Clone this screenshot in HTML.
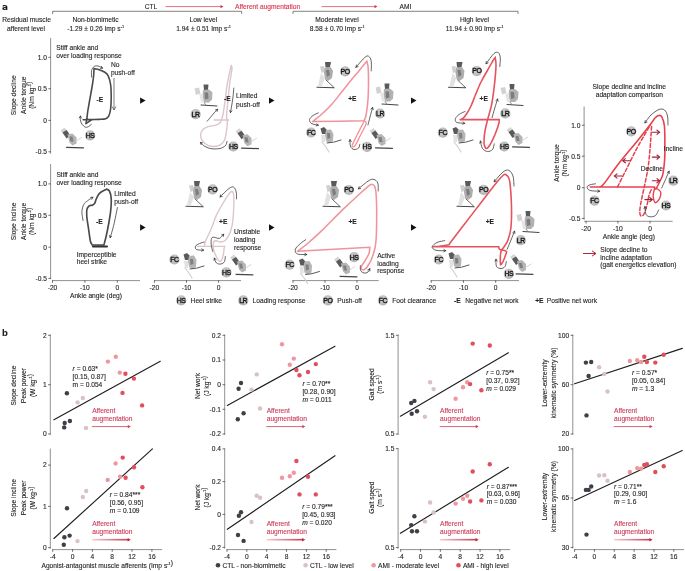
<!DOCTYPE html>
<html><head><meta charset="utf-8"><style>
html,body{margin:0;padding:0;background:#fff;width:685px;height:571px;overflow:hidden}
svg{display:block}
</style></head><body>
<svg width="685" height="571" viewBox="0 0 685 571" font-family="'Liberation Sans', Arial, Helvetica, sans-serif" font-size="6.65" fill="#231f20" stroke-linecap="round">
<style>text{stroke-width:0.12px}</style>
<defs>
<radialGradient id="bg" cx="0.45" cy="0.42" r="0.6"><stop offset="0" stop-color="#cdcdcd"/><stop offset="0.75" stop-color="#bdbdbd"/><stop offset="1" stop-color="#a8a8a8"/></radialGradient>
<filter id="soft" x="-10%" y="-10%" width="120%" height="120%"><feGaussianBlur stdDeviation="0.3"/></filter>
<linearGradient id="pg" gradientUnits="objectBoundingBox" x1="0" y1="0" x2="1" y2="0"><stop offset="0" stop-color="#f3cdd1"/><stop offset="1" stop-color="#c83850"/></linearGradient>
</defs>
<rect width="685" height="571" fill="#fff"/>
<text x="1.90" y="9.90" font-weight="bold" font-size="8.9" stroke="#231f20" font-family="DejaVu Sans, sans-serif">a</text>
<path d="M52.6,13.6 L52.6,11.3 L241.7,11.3 L241.7,13.6" stroke="#4d4d4d" stroke-width="0.7" fill="none"/>
<path d="M293,13.6 L293,11.3 L518,11.3 L518,13.6" stroke="#4d4d4d" stroke-width="0.7" fill="none"/>
<text x="151.00" y="9.00" text-anchor="middle" stroke="#231f20">CTL</text>
<text x="405.50" y="9.00" text-anchor="middle" stroke="#231f20">AMI</text>
<line x1="166.00" y1="6.60" x2="221.00" y2="6.60" stroke="#d9344e" stroke-width="0.7"/>
<path d="M223.50,6.60 L220.50,8.17 L220.50,5.02Z" fill="#d9344e"/>
<line x1="322.00" y1="6.60" x2="375.00" y2="6.60" stroke="#d9344e" stroke-width="0.7"/>
<path d="M377.50,6.60 L374.50,8.17 L374.50,5.02Z" fill="#d9344e"/>
<text x="235.00" y="9.40" fill="#d9344e" stroke="#d9344e">Afferent augmentation</text>
<text x="26.50" y="22.40" text-anchor="middle" stroke="#231f20">Residual muscle</text>
<text x="26.00" y="30.50" text-anchor="middle" stroke="#231f20">afferent level</text>
<text x="95.50" y="22.40" text-anchor="middle" stroke="#231f20">Non-biomimetic</text>
<text x="95.70" y="30.50" text-anchor="middle" stroke="#231f20">-1.29 ± 0.26 Imp s<tspan font-size="3.9" dy="-2.5">-1</tspan><tspan dy="2.5"></tspan></text>
<text x="203.30" y="22.40" text-anchor="middle" stroke="#231f20">Low level</text>
<text x="203.50" y="30.50" text-anchor="middle" stroke="#231f20">1.94 ± 0.51 Imp s<tspan font-size="3.9" dy="-2.5">-1</tspan><tspan dy="2.5"></tspan></text>
<text x="337.00" y="22.40" text-anchor="middle" stroke="#231f20">Moderate level</text>
<text x="337.20" y="30.50" text-anchor="middle" stroke="#231f20">8.58 ± 0.70 Imp s<tspan font-size="3.9" dy="-2.5">-1</tspan><tspan dy="2.5"></tspan></text>
<text x="474.50" y="22.40" text-anchor="middle" stroke="#231f20">High level</text>
<text x="474.70" y="30.50" text-anchor="middle" stroke="#231f20">11.94 ± 0.90 Imp s<tspan font-size="3.9" dy="-2.5">-1</tspan><tspan dy="2.5"></tspan></text>
<line x1="50.60" y1="38.40" x2="50.60" y2="153.40" stroke="#7c7c7c" stroke-width="0.85"/>
<line x1="48.80" y1="57.30" x2="50.60" y2="57.30" stroke="#555" stroke-width="0.85"/>
<text x="46.90" y="59.60" text-anchor="end" stroke="#231f20">1.0</text>
<line x1="48.80" y1="88.70" x2="50.60" y2="88.70" stroke="#555" stroke-width="0.85"/>
<text x="46.90" y="91.00" text-anchor="end" stroke="#231f20">0.5</text>
<line x1="48.80" y1="120.40" x2="50.60" y2="120.40" stroke="#555" stroke-width="0.85"/>
<text x="46.90" y="122.70" text-anchor="end" stroke="#231f20">0</text>
<line x1="48.80" y1="151.80" x2="50.60" y2="151.80" stroke="#555" stroke-width="0.85"/>
<text x="46.90" y="154.10" text-anchor="end" stroke="#231f20">-0.5</text>
<text x="16.00" y="95.30" text-anchor="middle" transform="rotate(-90 16.0 95.3)" stroke="#231f20">Slope decline</text>
<text x="25.70" y="95.30" text-anchor="middle" transform="rotate(-90 25.7 95.3)" stroke="#231f20">Ankle torque</text>
<text x="33.70" y="95.30" text-anchor="middle" transform="rotate(-90 33.699999999999996 95.3)" stroke="#231f20">(Nm kg<tspan font-size="3.9" dy="-2.5">-1</tspan><tspan dy="2.5"></tspan>)</text>
<line x1="50.60" y1="164.50" x2="50.60" y2="278.80" stroke="#7c7c7c" stroke-width="0.85"/>
<line x1="48.80" y1="183.90" x2="50.60" y2="183.90" stroke="#555" stroke-width="0.85"/>
<text x="46.90" y="186.20" text-anchor="end" stroke="#231f20">1.0</text>
<line x1="48.80" y1="215.30" x2="50.60" y2="215.30" stroke="#555" stroke-width="0.85"/>
<text x="46.90" y="217.60" text-anchor="end" stroke="#231f20">0.5</text>
<line x1="48.80" y1="247.20" x2="50.60" y2="247.20" stroke="#555" stroke-width="0.85"/>
<text x="46.90" y="249.50" text-anchor="end" stroke="#231f20">0</text>
<line x1="48.80" y1="278.40" x2="50.60" y2="278.40" stroke="#555" stroke-width="0.85"/>
<text x="46.90" y="280.70" text-anchor="end" stroke="#231f20">-0.5</text>
<text x="16.00" y="221.40" text-anchor="middle" transform="rotate(-90 16.0 221.4)" stroke="#231f20">Slope incline</text>
<text x="25.70" y="221.40" text-anchor="middle" transform="rotate(-90 25.7 221.4)" stroke="#231f20">Ankle torque</text>
<text x="33.70" y="221.40" text-anchor="middle" transform="rotate(-90 33.699999999999996 221.4)" stroke="#231f20">(Nm kg<tspan font-size="3.9" dy="-2.5">-1</tspan><tspan dy="2.5"></tspan>)</text>
<line x1="52.50" y1="280.60" x2="139.60" y2="280.60" stroke="#7c7c7c" stroke-width="0.85"/>
<line x1="52.50" y1="280.60" x2="52.50" y2="282.40" stroke="#555" stroke-width="0.85"/>
<text x="52.50" y="289.90" text-anchor="middle" stroke="#231f20">-20</text>
<line x1="84.90" y1="280.60" x2="84.90" y2="282.40" stroke="#555" stroke-width="0.85"/>
<text x="84.90" y="289.90" text-anchor="middle" stroke="#231f20">-10</text>
<line x1="117.30" y1="280.60" x2="117.30" y2="282.40" stroke="#555" stroke-width="0.85"/>
<text x="117.30" y="289.90" text-anchor="middle" stroke="#231f20">0</text>
<line x1="154.40" y1="280.60" x2="240.60" y2="280.60" stroke="#7c7c7c" stroke-width="0.85"/>
<line x1="154.40" y1="280.60" x2="154.40" y2="282.40" stroke="#555" stroke-width="0.85"/>
<text x="154.40" y="289.90" text-anchor="middle" stroke="#231f20">-20</text>
<line x1="186.50" y1="280.60" x2="186.50" y2="282.40" stroke="#555" stroke-width="0.85"/>
<text x="186.50" y="289.90" text-anchor="middle" stroke="#231f20">-10</text>
<line x1="218.60" y1="280.60" x2="218.60" y2="282.40" stroke="#555" stroke-width="0.85"/>
<text x="218.60" y="289.90" text-anchor="middle" stroke="#231f20">0</text>
<line x1="293.00" y1="280.60" x2="378.30" y2="280.60" stroke="#7c7c7c" stroke-width="0.85"/>
<line x1="293.00" y1="280.60" x2="293.00" y2="282.40" stroke="#555" stroke-width="0.85"/>
<text x="293.00" y="289.90" text-anchor="middle" stroke="#231f20">-20</text>
<line x1="325.00" y1="280.60" x2="325.00" y2="282.40" stroke="#555" stroke-width="0.85"/>
<text x="325.00" y="289.90" text-anchor="middle" stroke="#231f20">-10</text>
<line x1="357.00" y1="280.60" x2="357.00" y2="282.40" stroke="#555" stroke-width="0.85"/>
<text x="357.00" y="289.90" text-anchor="middle" stroke="#231f20">0</text>
<line x1="431.20" y1="280.60" x2="518.60" y2="280.60" stroke="#7c7c7c" stroke-width="0.85"/>
<line x1="431.20" y1="280.60" x2="431.20" y2="282.40" stroke="#555" stroke-width="0.85"/>
<text x="431.20" y="289.90" text-anchor="middle" stroke="#231f20">-20</text>
<line x1="463.45" y1="280.60" x2="463.45" y2="282.40" stroke="#555" stroke-width="0.85"/>
<text x="463.45" y="289.90" text-anchor="middle" stroke="#231f20">-10</text>
<line x1="495.70" y1="280.60" x2="495.70" y2="282.40" stroke="#555" stroke-width="0.85"/>
<text x="495.70" y="289.90" text-anchor="middle" stroke="#231f20">0</text>
<text x="96.00" y="298.40" text-anchor="middle" stroke="#231f20">Ankle angle (deg)</text>
<path d="M140.1,97.4 L145.6,100.6 L140.1,103.8Z" fill="#111"/>
<path d="M269.0,97.4 L274.5,100.6 L269.0,103.8Z" fill="#111"/>
<path d="M411.0,97.4 L416.5,100.6 L411.0,103.8Z" fill="#111"/>
<path d="M140.1,224.3 L145.6,227.5 L140.1,230.7Z" fill="#111"/>
<path d="M269.0,224.3 L274.5,227.5 L269.0,230.7Z" fill="#111"/>
<path d="M411.0,224.3 L416.5,227.5 L411.0,230.7Z" fill="#111"/>
<circle cx="181.20" cy="300.30" r="5.1" fill="url(#bg)"/>
<text x="181.20" y="302.65" text-anchor="middle" fill="#111" font-size="6.9" stroke="#111" letter-spacing="-0.4" style="stroke-width:0.3px">HS</text>
<text x="190.60" y="302.60" stroke="#231f20">Heel strike</text>
<circle cx="243.20" cy="300.30" r="5.1" fill="url(#bg)"/>
<text x="243.20" y="302.65" text-anchor="middle" fill="#111" font-size="6.9" stroke="#111" letter-spacing="-0.4" style="stroke-width:0.3px">LR</text>
<text x="252.60" y="302.60" stroke="#231f20">Loading response</text>
<circle cx="327.90" cy="300.30" r="5.1" fill="url(#bg)"/>
<text x="327.90" y="302.65" text-anchor="middle" fill="#111" font-size="6.9" stroke="#111" letter-spacing="-0.4" style="stroke-width:0.3px">PO</text>
<text x="337.30" y="302.60" stroke="#231f20">Push-off</text>
<circle cx="382.90" cy="300.30" r="5.1" fill="url(#bg)"/>
<text x="382.90" y="302.65" text-anchor="middle" fill="#111" font-size="6.9" stroke="#111" letter-spacing="-0.4" style="stroke-width:0.3px">FC</text>
<text x="392.30" y="302.60" stroke="#231f20">Foot clearance</text>
<text x="454.00" y="302.60" font-weight="bold" stroke="#231f20">-E</text>
<text x="465.30" y="302.60" stroke="#231f20">Negative net work</text>
<text x="535.20" y="302.60" font-weight="bold" stroke="#231f20">+E</text>
<text x="546.80" y="302.60" stroke="#231f20">Positive net work</text>
<text x="629.30" y="89.30" text-anchor="middle" stroke="#231f20">Slope decline and incline</text>
<text x="629.30" y="97.40" text-anchor="middle" stroke="#231f20">adaptation comparison</text>
<line x1="584.10" y1="106.80" x2="584.10" y2="219.50" stroke="#7c7c7c" stroke-width="0.85"/>
<line x1="582.30" y1="125.20" x2="584.10" y2="125.20" stroke="#555" stroke-width="0.85"/>
<text x="580.40" y="127.50" text-anchor="end" stroke="#231f20">1.0</text>
<line x1="582.30" y1="156.20" x2="584.10" y2="156.20" stroke="#555" stroke-width="0.85"/>
<text x="580.40" y="158.50" text-anchor="end" stroke="#231f20">0.5</text>
<line x1="582.30" y1="187.70" x2="584.10" y2="187.70" stroke="#555" stroke-width="0.85"/>
<text x="580.40" y="190.00" text-anchor="end" stroke="#231f20">0</text>
<line x1="582.30" y1="218.40" x2="584.10" y2="218.40" stroke="#555" stroke-width="0.85"/>
<text x="580.40" y="220.70" text-anchor="end" stroke="#231f20">-0.5</text>
<text x="558.60" y="163.00" text-anchor="middle" transform="rotate(-90 558.5999999999999 163)" stroke="#231f20">Ankle torque</text>
<text x="567.30" y="163.00" text-anchor="middle" transform="rotate(-90 567.3 163)" stroke="#231f20">(Nm kg<tspan font-size="3.9" dy="-2.5">-1</tspan><tspan dy="2.5"></tspan>)</text>
<line x1="584.50" y1="221.30" x2="672.30" y2="221.30" stroke="#7c7c7c" stroke-width="0.85"/>
<line x1="586.10" y1="221.30" x2="586.10" y2="223.10" stroke="#555" stroke-width="0.85"/>
<text x="586.10" y="230.60" text-anchor="middle" stroke="#231f20">-20</text>
<line x1="617.90" y1="221.30" x2="617.90" y2="223.10" stroke="#555" stroke-width="0.85"/>
<text x="617.90" y="230.60" text-anchor="middle" stroke="#231f20">-10</text>
<line x1="650.00" y1="221.30" x2="650.00" y2="223.10" stroke="#555" stroke-width="0.85"/>
<text x="650.00" y="230.60" text-anchor="middle" stroke="#231f20">0</text>
<text x="628.90" y="239.00" text-anchor="middle" stroke="#231f20">Ankle angle (deg)</text>
<line x1="583.40" y1="253.50" x2="595.20" y2="253.50" stroke="#b5263c" stroke-width="1.0"/>
<path d="M592.3,251.1 L596,253.5 L592.3,255.9" stroke="#b5263c" stroke-width="1.0" fill="none"/>
<text x="600.30" y="251.60" stroke="#231f20">Slope decline to</text>
<text x="600.30" y="259.60" stroke="#231f20">incline adaptation</text>
<text x="600.30" y="267.40" stroke="#231f20">(gait energetics elevation)</text>
<text x="2.00" y="336.20" font-weight="bold" font-size="9.5" stroke="#231f20">b</text>
<path d="M83.10,119.70 C84.62,119.68 89.47,119.65 92.20,119.60 C94.93,119.55 97.25,119.55 99.50,119.40 C101.75,119.25 104.17,119.23 105.70,118.70 C107.23,118.17 107.88,117.82 108.70,116.20 C109.52,114.58 110.18,112.23 110.60,109.00 C111.02,105.77 111.20,100.88 111.20,96.80 C111.20,92.72 111.12,88.03 110.60,84.50 C110.08,80.97 109.13,77.68 108.10,75.60 C107.07,73.52 106.03,73.03 104.40,72.00 C102.77,70.97 100.03,69.97 98.30,69.40 C96.57,68.83 94.72,68.73 94.00,68.60 C93.93,69.83 93.90,73.10 93.60,76.00 C93.30,78.90 92.85,82.00 92.20,86.00 C91.55,90.00 90.43,95.83 89.70,100.00 C88.97,104.17 88.28,107.83 87.80,111.00 C87.32,114.17 87.12,116.88 86.80,119.00 C86.48,121.12 86.05,122.92 85.90,123.70 L91.2,120.1" stroke="#4a4a4a" stroke-width="1.6" fill="none" stroke-linejoin="round"/>
<path d="M91.60,77.20 C91.60,76.08 91.20,72.27 91.60,70.50 C92.00,68.73 92.93,67.35 94.00,66.60 C95.07,65.85 96.57,65.73 98.00,66.00 C99.43,66.27 101.83,67.83 102.60,68.20" stroke="#222222" stroke-width="0.7" fill="none"/>
<path d="M100.31,68.38 L102.60,68.20 L101.30,66.30" stroke="#222222" stroke-width="0.7" fill="none"/>
<path d="M91.40,124.30 C90.92,124.68 89.52,126.13 88.50,126.60 C87.48,127.07 86.42,127.53 85.30,127.10 C84.18,126.67 82.63,125.27 81.80,124.00 C80.97,122.73 80.52,120.83 80.30,119.50 C80.08,118.17 80.47,116.58 80.50,116.00" stroke="#222222" stroke-width="0.7" fill="none"/>
<path d="M81.53,118.05 L80.50,116.00 L79.24,117.92" stroke="#222222" stroke-width="0.7" fill="none"/>
<line x1="114.00" y1="78.40" x2="114.00" y2="109.50" stroke="#444" stroke-width="0.7"/>
<path d="M112.3,106.8 L114,110 L115.7,106.8" stroke="#444" stroke-width="0.7" fill="none"/>
<text x="56.30" y="50.30" stroke="#231f20">Stiff ankle and</text>
<text x="56.30" y="57.80" stroke="#231f20">over loading response</text>
<text x="110.90" y="66.60" stroke="#231f20">No</text>
<text x="110.90" y="74.80" stroke="#231f20">push-off</text>
<text x="96.50" y="101.50" font-weight="bold" stroke="#231f20">-E</text>
<g transform="translate(59.50,127.50) scale(1.0)" filter="url(#soft)"><path d="M1,3 L5,0 L9,5 L5,8Z" fill="#d5d5d5"/><path d="M3,5 L7,2.5 L11,8 L7,11Z" fill="#5a5a5a"/><path d="M8,7 L13,6 L17,10 L17,16 L13,18 L10,15Z" fill="#b5b5b5"/><path d="M10,9 L13,9 L14,14 L11,14Z" fill="#808080"/><path d="M16,14 L22,10" stroke="#c8c8c8" stroke-width="0.8"/><path d="M7,19.8 L24,20.3" stroke="#454545" stroke-width="1.2"/></g>
<circle cx="90.10" cy="135.30" r="5.1" fill="url(#bg)"/>
<text x="90.10" y="137.65" text-anchor="middle" fill="#111" font-size="6.9" stroke="#111" letter-spacing="-0.4" style="stroke-width:0.3px">HS</text>
<path d="M231.50,66.30 C231.58,66.75 232.28,66.27 232.00,69.00 C231.72,71.73 230.45,77.57 229.80,82.70 C229.15,87.83 228.60,94.92 228.10,99.80 C227.60,104.68 227.05,109.13 226.80,112.00 C226.55,114.87 226.52,115.50 226.60,117.00 C226.68,118.50 227.23,119.33 227.30,121.00 C227.37,122.67 227.22,124.83 227.00,127.00 C226.78,129.17 226.45,131.72 226.00,134.00 C225.55,136.28 225.42,138.82 224.30,140.70 C223.18,142.58 221.47,144.37 219.30,145.30 C217.13,146.23 213.73,146.63 211.30,146.30 C208.87,145.97 206.42,144.68 204.70,143.30 C202.98,141.92 201.57,139.88 201.00,138.00 C200.43,136.12 200.47,133.78 201.30,132.00 C202.13,130.22 203.77,128.42 206.00,127.30 C208.23,126.18 212.45,125.93 214.70,125.30 C216.95,124.67 218.40,124.35 219.50,123.50 C220.60,122.65 220.72,121.70 221.30,120.20 C221.88,118.70 222.35,117.90 223.00,114.50 C223.65,111.10 224.45,105.10 225.20,99.80 C225.95,94.50 226.55,88.20 227.50,82.70 C228.45,77.20 230.23,69.53 230.90,66.80 C231.57,64.07 231.40,66.38 231.50,66.30" stroke="#dcc6c9" stroke-width="1.4" fill="none"/>
<line x1="214.30" y1="120.00" x2="228.70" y2="120.00" stroke="#dcc6c9" stroke-width="1.4"/>
<path d="M233.80,88.10 C233.67,89.58 233.33,94.18 233.00,97.00 C232.67,99.82 232.22,102.40 231.80,105.00 C231.38,107.60 230.72,111.33 230.50,112.60" stroke="#222222" stroke-width="0.7" fill="none"/>
<path d="M229.70,110.44 L230.50,112.60 L231.97,110.83" stroke="#222222" stroke-width="0.7" fill="none"/>
<path d="M207.20,121.20 C207.75,120.53 209.37,118.57 210.50,117.20 C211.63,115.83 212.80,114.33 214.00,113.00 C215.20,111.67 217.08,109.83 217.70,109.20" stroke="#222222" stroke-width="0.7" fill="none"/>
<path d="M217.13,111.43 L217.70,109.20 L215.49,109.82" stroke="#222222" stroke-width="0.7" fill="none"/>
<path d="M227.00,141.40 C226.75,142.08 226.67,144.32 225.50,145.50 C224.33,146.68 222.25,147.95 220.00,148.50 C217.75,149.05 214.50,149.13 212.00,148.80 C209.50,148.47 206.95,147.57 205.00,146.50 C203.05,145.43 201.08,143.08 200.30,142.40" stroke="#222222" stroke-width="0.7" fill="none"/>
<path d="M202.56,142.84 L200.30,142.40 L201.05,144.58" stroke="#222222" stroke-width="0.7" fill="none"/>
<text x="224.00" y="101.00" font-weight="bold" stroke="#231f20">-E</text>
<text x="236.00" y="98.20" stroke="#231f20">Limited</text>
<text x="236.00" y="106.60" stroke="#231f20">push-off</text>
<g transform="translate(194.00,84.50) scale(1.0)" filter="url(#soft)"><path d="M9.5,0 L14.5,0 L14,5.5 L10,5.8Z" fill="#5a5a5a"/><path d="M0.5,4 L5,3 L6.5,9 L2,10.5Z" fill="#d2d2d2"/><path d="M9,5.5 L15,5 L18.5,8 L18,15 L15,18 L10,18 L8.5,11Z" fill="#b2b2b2"/><path d="M10.5,8 L14,8 L14.5,14 L11,15Z" fill="#7c7c7c"/><path d="M5,9 L9,10 L9,18 L7,18Z" fill="#e5e5e5"/><path d="M7,20.5 L23,21.5" stroke="#454545" stroke-width="1.1"/><path d="M10,18 L12,20.5" stroke="#777" stroke-width="0.8"/></g>
<g transform="translate(234.50,128.30) scale(1.0)" filter="url(#soft)"><path d="M1,3 L5,0 L9,5 L5,8Z" fill="#d5d5d5"/><path d="M3,5 L7,2.5 L11,8 L7,11Z" fill="#5a5a5a"/><path d="M8,7 L13,6 L17,10 L17,16 L13,18 L10,15Z" fill="#b5b5b5"/><path d="M10,9 L13,9 L14,14 L11,14Z" fill="#808080"/><path d="M16,14 L22,10" stroke="#c8c8c8" stroke-width="0.8"/><path d="M7,19.8 L24,20.3" stroke="#454545" stroke-width="1.2"/></g>
<circle cx="195.60" cy="114.20" r="5.1" fill="url(#bg)"/>
<text x="195.60" y="116.55" text-anchor="middle" fill="#111" font-size="6.9" stroke="#111" letter-spacing="-0.4" style="stroke-width:0.3px">LR</text>
<circle cx="233.30" cy="146.50" r="5.1" fill="url(#bg)"/>
<text x="233.30" y="148.85" text-anchor="middle" fill="#111" font-size="6.9" stroke="#111" letter-spacing="-0.4" style="stroke-width:0.3px">HS</text>
<path d="M312.60,121.60 C321.13,121.45 355.27,120.85 363.80,120.70  C363.93,120.50 364.18,120.65 364.60,119.50 C365.02,118.35 365.72,117.40 366.30,113.80 C366.88,110.20 367.73,103.62 368.10,97.90 C368.47,92.18 368.50,84.60 368.50,79.50 C368.50,74.40 368.37,70.28 368.10,67.30 C367.83,64.32 367.10,62.55 366.90,61.60  C366.80,61.62 367.63,60.15 366.30,61.70 C364.97,63.25 361.35,67.93 358.90,70.90 C356.45,73.87 354.45,76.02 351.60,79.50 C348.75,82.98 345.07,87.72 341.80,91.80 C338.53,95.88 335.27,100.33 332.00,104.00 C328.73,107.67 325.43,110.87 322.20,113.80 C318.97,116.73 314.20,120.30 312.60,121.60" stroke="#f0939b" stroke-width="1.55" fill="none"/>
<path d="M364.40,120.80 C364.70,121.13 366.00,122.07 366.20,122.80 C366.40,123.53 366.60,123.03 365.60,125.20 C364.60,127.37 361.90,132.47 360.20,135.80 C358.50,139.13 356.50,143.35 355.40,145.20 C354.30,147.05 354.13,146.87 353.60,146.90 C353.07,146.93 351.60,147.42 352.20,145.40 C352.80,143.38 355.47,138.33 357.20,134.80 C358.93,131.27 361.40,126.53 362.60,124.20 C363.80,121.87 364.10,121.37 364.40,120.80" stroke="#f0939b" stroke-width="1.3" fill="none"/>
<path d="M371.20,70.90 C371.22,69.42 371.58,64.32 371.30,62.00 C371.02,59.68 370.47,57.87 369.50,57.00 C368.53,56.13 367.77,55.08 365.50,56.80 C363.23,58.52 357.50,65.55 355.90,67.30" stroke="#222222" stroke-width="0.7" fill="none"/>
<path d="M356.40,65.05 L355.90,67.30 L358.09,66.61" stroke="#222222" stroke-width="0.7" fill="none"/>
<path d="M318.40,112.90 C317.50,113.33 314.47,114.40 313.00,115.50 C311.53,116.60 309.85,118.17 309.60,119.50 C309.35,120.83 310.03,122.55 311.50,123.50 C312.97,124.45 317.25,124.92 318.40,125.20" stroke="#222222" stroke-width="0.7" fill="none"/>
<path d="M316.19,125.84 L318.40,125.20 L316.74,123.61" stroke="#222222" stroke-width="0.7" fill="none"/>
<path d="M368.00,124.90 C368.33,123.58 369.23,119.92 370.00,117.00 C370.77,114.08 372.17,109.00 372.60,107.40" stroke="#222222" stroke-width="0.7" fill="none"/>
<path d="M373.19,109.62 L372.60,107.40 L370.97,109.02" stroke="#222222" stroke-width="0.7" fill="none"/>
<path d="M359.80,144.20 C359.58,144.83 359.47,147.12 358.50,148.00 C357.53,148.88 355.33,149.75 354.00,149.50 C352.67,149.25 351.17,148.15 350.50,146.50 C349.83,144.85 350.08,140.75 350.00,139.60" stroke="#222222" stroke-width="0.7" fill="none"/>
<path d="M351.29,141.50 L350.00,139.60 L349.00,141.67" stroke="#222222" stroke-width="0.7" fill="none"/>
<text x="348.20" y="101.20" font-weight="bold" stroke="#231f20">+E</text>
<g transform="translate(317.00,62.00) scale(1.0)" filter="url(#soft)"><path d="M8,0 L14,0 L13,5 L10,6 L8.5,5Z" fill="#5a5a5a"/><path d="M3,4.5 L7,4 L7.5,10 L4.5,11 Z" fill="#cfcfcf"/><path d="M7.5,5.5 L13.5,5 L16,9 L15,16 L11,19 L8,17 L7,11Z" fill="#adadad"/><path d="M9,8 L12,8 L13,13 L10,15Z" fill="#7c7c7c"/><path d="M4,11 L8,16 L5,24 L1,24Z" fill="#e2e2e2"/><path d="M9,18 L17,25.5" stroke="#5a5a5a" stroke-width="0.9"/><path d="M0,25.3 L17,25.7" stroke="#454545" stroke-width="1.1"/></g>
<g transform="translate(375.00,83.50) scale(1.0)" filter="url(#soft)"><path d="M9.5,0 L14.5,0 L14,5.5 L10,5.8Z" fill="#5a5a5a"/><path d="M0.5,4 L5,3 L6.5,9 L2,10.5Z" fill="#d2d2d2"/><path d="M9,5.5 L15,5 L18.5,8 L18,15 L15,18 L10,18 L8.5,11Z" fill="#b2b2b2"/><path d="M10.5,8 L14,8 L14.5,14 L11,15Z" fill="#7c7c7c"/><path d="M5,9 L9,10 L9,18 L7,18Z" fill="#e5e5e5"/><path d="M7,20.5 L23,21.5" stroke="#454545" stroke-width="1.1"/><path d="M10,18 L12,20.5" stroke="#777" stroke-width="0.8"/></g>
<g transform="translate(320.00,127.00) scale(1.0)" filter="url(#soft)"><path d="M0.5,1.5 L4,0 L7,3 L6,7 L2,7Z" fill="#5a5a5a"/><path d="M6,3 L11,2.5 L13.5,7 L13,14 L9,16 L6,14 L5,8Z" fill="#b5b5b5"/><path d="M7,6 L10,6 L10.5,11 L7.5,12Z" fill="#808080"/><path d="M1,8 L5,8 L5,15 L2,15Z" fill="#e2e2e2"/><path d="M2,15 L6,20 L9,25" stroke="#d0d0d0" stroke-width="1.2" fill="none"/><path d="M7,16 Q13,16 21,13" stroke="#454545" stroke-width="0.9" fill="none"/></g>
<g transform="translate(368.50,128.00) scale(1.0)" filter="url(#soft)"><path d="M1,3 L5,0 L9,5 L5,8Z" fill="#d5d5d5"/><path d="M3,5 L7,2.5 L11,8 L7,11Z" fill="#5a5a5a"/><path d="M8,7 L13,6 L17,10 L17,16 L13,18 L10,15Z" fill="#b5b5b5"/><path d="M10,9 L13,9 L14,14 L11,14Z" fill="#808080"/><path d="M16,14 L22,10" stroke="#c8c8c8" stroke-width="0.8"/><path d="M7,19.8 L24,20.3" stroke="#454545" stroke-width="1.2"/></g>
<circle cx="345.20" cy="71.30" r="5.1" fill="url(#bg)"/>
<text x="345.20" y="73.65" text-anchor="middle" fill="#111" font-size="6.9" stroke="#111" letter-spacing="-0.4" style="stroke-width:0.3px">PO</text>
<circle cx="380.00" cy="113.50" r="5.1" fill="url(#bg)"/>
<text x="380.00" y="115.85" text-anchor="middle" fill="#111" font-size="6.9" stroke="#111" letter-spacing="-0.4" style="stroke-width:0.3px">LR</text>
<circle cx="311.10" cy="132.50" r="5.1" fill="url(#bg)"/>
<text x="311.10" y="134.85" text-anchor="middle" fill="#111" font-size="6.9" stroke="#111" letter-spacing="-0.4" style="stroke-width:0.3px">FC</text>
<circle cx="367.00" cy="146.80" r="5.1" fill="url(#bg)"/>
<text x="367.00" y="149.15" text-anchor="middle" fill="#111" font-size="6.9" stroke="#111" letter-spacing="-0.4" style="stroke-width:0.3px">HS</text>
<path d="M460.20,119.60 C466.70,119.60 492.70,119.60 499.20,119.60  C499.17,120.17 499.53,120.93 499.00,123.00 C498.47,125.07 496.95,129.45 496.00,132.00 C495.05,134.55 494.38,136.05 493.30,138.30 C492.22,140.55 490.63,143.80 489.50,145.50 C488.37,147.20 487.37,148.58 486.50,148.50 C485.63,148.42 484.70,146.58 484.30,145.00 C483.90,143.42 483.98,141.33 484.10,139.00 C484.22,136.67 484.43,134.17 485.00,131.00 C485.57,127.83 486.42,124.30 487.50,120.00 C488.58,115.70 490.38,110.73 491.50,105.20 C492.62,99.67 493.45,93.33 494.20,86.80 C494.95,80.27 495.83,70.85 496.00,66.00 C496.17,61.15 495.33,59.08 495.20,57.70  C494.88,58.10 494.55,58.05 493.30,60.10 C492.05,62.15 489.75,66.35 487.70,70.00 C485.65,73.65 483.05,77.83 481.00,82.00 C478.95,86.17 477.07,91.00 475.40,95.00 C473.73,99.00 472.40,102.97 471.00,106.00 C469.60,109.03 468.33,111.13 467.00,113.20 C465.67,115.27 464.13,117.33 463.00,118.40 C461.87,119.47 460.67,119.40 460.20,119.60" stroke="#e6535f" stroke-width="1.6" fill="none"/>
<path d="M499.80,66.50 C499.88,65.08 500.52,60.28 500.30,58.00 C500.08,55.72 499.55,53.55 498.50,52.80 C497.45,52.05 496.08,51.67 494.00,53.50 C491.92,55.33 487.33,62.08 486.00,63.80" stroke="#222222" stroke-width="0.7" fill="none"/>
<path d="M486.31,61.52 L486.00,63.80 L488.13,62.93" stroke="#222222" stroke-width="0.7" fill="none"/>
<path d="M465.10,111.40 C464.08,111.92 460.60,113.32 459.00,114.50 C457.40,115.68 455.92,117.20 455.50,118.50 C455.08,119.80 454.95,121.50 456.50,122.30 C458.05,123.10 463.42,123.13 464.80,123.30" stroke="#222222" stroke-width="0.7" fill="none"/>
<path d="M462.68,124.20 L464.80,123.30 L462.96,121.92" stroke="#222222" stroke-width="0.7" fill="none"/>
<path d="M492.10,117.60 C492.55,116.00 493.88,111.10 494.80,108.00 C495.72,104.90 497.13,100.50 497.60,99.00" stroke="#222222" stroke-width="0.7" fill="none"/>
<path d="M498.11,101.24 L497.60,99.00 L495.91,100.56" stroke="#222222" stroke-width="0.7" fill="none"/>
<path d="M494.20,143.80 C493.92,144.75 493.62,148.22 492.50,149.50 C491.38,150.78 489.17,151.67 487.50,151.50 C485.83,151.33 483.68,150.25 482.50,148.50 C481.32,146.75 480.75,142.25 480.40,141.00" stroke="#222222" stroke-width="0.7" fill="none"/>
<path d="M482.04,142.61 L480.40,141.00 L479.83,143.23" stroke="#222222" stroke-width="0.7" fill="none"/>
<text x="479.50" y="101.10" font-weight="bold" stroke="#231f20">+E</text>
<g transform="translate(448.50,62.00) scale(1.0)" filter="url(#soft)"><path d="M8,0 L14,0 L13,5 L10,6 L8.5,5Z" fill="#5a5a5a"/><path d="M3,4.5 L7,4 L7.5,10 L4.5,11 Z" fill="#cfcfcf"/><path d="M7.5,5.5 L13.5,5 L16,9 L15,16 L11,19 L8,17 L7,11Z" fill="#adadad"/><path d="M9,8 L12,8 L13,13 L10,15Z" fill="#7c7c7c"/><path d="M4,11 L8,16 L5,24 L1,24Z" fill="#e2e2e2"/><path d="M9,18 L17,25.5" stroke="#5a5a5a" stroke-width="0.9"/><path d="M0,25.3 L17,25.7" stroke="#454545" stroke-width="1.1"/></g>
<g transform="translate(500.00,84.00) scale(1.0)" filter="url(#soft)"><path d="M9.5,0 L14.5,0 L14,5.5 L10,5.8Z" fill="#5a5a5a"/><path d="M0.5,4 L5,3 L6.5,9 L2,10.5Z" fill="#d2d2d2"/><path d="M9,5.5 L15,5 L18.5,8 L18,15 L15,18 L10,18 L8.5,11Z" fill="#b2b2b2"/><path d="M10.5,8 L14,8 L14.5,14 L11,15Z" fill="#7c7c7c"/><path d="M5,9 L9,10 L9,18 L7,18Z" fill="#e5e5e5"/><path d="M7,20.5 L23,21.5" stroke="#454545" stroke-width="1.1"/><path d="M10,18 L12,20.5" stroke="#777" stroke-width="0.8"/></g>
<g transform="translate(452.00,127.00) scale(1.0)" filter="url(#soft)"><path d="M0.5,1.5 L4,0 L7,3 L6,7 L2,7Z" fill="#5a5a5a"/><path d="M6,3 L11,2.5 L13.5,7 L13,14 L9,16 L6,14 L5,8Z" fill="#b5b5b5"/><path d="M7,6 L10,6 L10.5,11 L7.5,12Z" fill="#808080"/><path d="M1,8 L5,8 L5,15 L2,15Z" fill="#e2e2e2"/><path d="M2,15 L6,20 L9,25" stroke="#d0d0d0" stroke-width="1.2" fill="none"/><path d="M7,16 Q13,16 21,13" stroke="#454545" stroke-width="0.9" fill="none"/></g>
<g transform="translate(505.50,127.00) scale(1.0)" filter="url(#soft)"><path d="M1,3 L5,0 L9,5 L5,8Z" fill="#d5d5d5"/><path d="M3,5 L7,2.5 L11,8 L7,11Z" fill="#5a5a5a"/><path d="M8,7 L13,6 L17,10 L17,16 L13,18 L10,15Z" fill="#b5b5b5"/><path d="M10,9 L13,9 L14,14 L11,14Z" fill="#808080"/><path d="M16,14 L22,10" stroke="#c8c8c8" stroke-width="0.8"/><path d="M7,19.8 L24,20.3" stroke="#454545" stroke-width="1.2"/></g>
<circle cx="476.80" cy="71.10" r="5.1" fill="url(#bg)"/>
<text x="476.80" y="73.45" text-anchor="middle" fill="#111" font-size="6.9" stroke="#111" letter-spacing="-0.4" style="stroke-width:0.3px">PO</text>
<circle cx="505.30" cy="113.40" r="5.1" fill="url(#bg)"/>
<text x="505.30" y="115.75" text-anchor="middle" fill="#111" font-size="6.9" stroke="#111" letter-spacing="-0.4" style="stroke-width:0.3px">LR</text>
<circle cx="442.80" cy="132.70" r="5.1" fill="url(#bg)"/>
<text x="442.80" y="135.05" text-anchor="middle" fill="#111" font-size="6.9" stroke="#111" letter-spacing="-0.4" style="stroke-width:0.3px">FC</text>
<circle cx="504.30" cy="146.50" r="5.1" fill="url(#bg)"/>
<text x="504.30" y="148.85" text-anchor="middle" fill="#111" font-size="6.9" stroke="#111" letter-spacing="-0.4" style="stroke-width:0.3px">HS</text>
<path d="M106.40,189.20 C106.90,189.50 108.60,189.47 109.40,191.00 C110.20,192.53 110.98,195.12 111.20,198.40 C111.42,201.68 111.10,206.60 110.70,210.70 C110.30,214.80 109.52,218.92 108.80,223.00 C108.08,227.08 107.22,231.53 106.40,235.20 C105.58,238.87 104.32,243.37 103.90,245.00 L92.3,245  C91.98,244.38 91.02,243.95 90.40,241.30 C89.78,238.65 89.20,233.18 88.60,229.10 C88.00,225.02 87.08,220.08 86.80,216.80 C86.52,213.52 86.50,211.23 86.90,209.40 C87.30,207.57 88.30,206.50 89.20,205.80 C90.10,205.10 91.38,205.62 92.30,205.20 C93.22,204.78 94.08,204.23 94.70,203.30 C95.32,202.37 95.38,201.03 96.00,199.60 C96.62,198.17 97.48,196.02 98.40,194.70 C99.32,193.38 100.17,192.62 101.50,191.70 C102.83,190.78 105.58,189.62 106.40,189.20" stroke="#4a4a4a" stroke-width="1.65" fill="none" stroke-linejoin="round"/>
<line x1="92.90" y1="246.40" x2="107.00" y2="246.40" stroke="#333" stroke-width="2.0"/>
<path d="M83.10,220.50 C82.90,219.07 81.80,214.57 81.90,211.90 C82.00,209.23 82.78,206.33 83.70,204.50 C84.62,202.67 85.87,202.12 87.40,200.90 C88.93,199.68 91.98,197.82 92.90,197.20" stroke="#222222" stroke-width="0.7" fill="none"/>
<path d="M91.89,199.27 L92.90,197.20 L90.61,197.36" stroke="#222222" stroke-width="0.7" fill="none"/>
<path d="M117.40,207.60 C116.78,210.57 114.92,220.38 113.70,225.40 C112.48,230.42 110.70,235.65 110.10,237.70" stroke="#222222" stroke-width="0.7" fill="none"/>
<path d="M109.56,235.47 L110.10,237.70 L111.76,236.11" stroke="#222222" stroke-width="0.7" fill="none"/>
<text x="56.40" y="176.50" stroke="#231f20">Stiff ankle and</text>
<text x="56.40" y="184.90" stroke="#231f20">over loading response</text>
<text x="114.30" y="195.80" stroke="#231f20">Limited</text>
<text x="114.30" y="204.10" stroke="#231f20">push-off</text>
<text x="96.00" y="224.40" font-weight="bold" stroke="#231f20">-E</text>
<text x="76.70" y="256.80" stroke="#231f20">Imperceptible</text>
<text x="76.70" y="264.20" stroke="#231f20">heel strike</text>
<path d="M197.40,246.40 C201.93,246.40 220.07,246.40 224.60,246.40" stroke="#dcc6c9" stroke-width="1.4" fill="none"/>
<path d="M204.10,246.30 C204.42,245.25 205.18,242.08 206.00,240.00 C206.82,237.92 207.88,236.30 209.00,233.80 C210.12,231.30 211.48,228.07 212.70,225.00 C213.92,221.93 214.75,218.73 216.30,215.40 C217.85,212.07 220.02,208.37 222.00,205.00 C223.98,201.63 226.55,197.45 228.20,195.20 C229.85,192.95 230.98,191.53 231.90,191.50 C232.82,191.47 233.38,192.75 233.70,195.00 C234.02,197.25 233.95,200.67 233.80,205.00 C233.65,209.33 233.23,217.00 232.80,221.00 C232.37,225.00 231.85,226.63 231.20,229.00 C230.55,231.37 229.95,233.23 228.90,235.20 C227.85,237.17 226.35,239.67 224.90,240.80 C223.45,241.93 221.63,242.00 220.20,242.00 C218.77,242.00 217.35,240.88 216.30,240.80 C215.25,240.72 214.43,240.72 213.90,241.50 C213.37,242.28 213.10,243.92 213.10,245.50 C213.10,247.08 213.37,249.17 213.90,251.00 C214.43,252.83 215.38,254.80 216.30,256.50 C217.22,258.20 218.48,260.67 219.40,261.20 C220.32,261.73 221.13,260.87 221.80,259.70 C222.47,258.53 223.00,256.17 223.40,254.20 C223.80,252.23 224.00,249.20 224.20,247.90 C224.40,246.60 224.53,246.65 224.60,246.40" stroke="#dcc6c9" stroke-width="1.4" fill="none"/>
<path d="M236.50,198.90 C236.45,197.75 236.67,193.95 236.20,192.00 C235.73,190.05 234.90,187.78 233.70,187.20 C232.50,186.62 231.28,186.87 229.00,188.50 C226.72,190.13 221.50,195.58 220.00,197.00" stroke="#222222" stroke-width="0.7" fill="none"/>
<path d="M220.66,194.80 L220.00,197.00 L222.24,196.47" stroke="#222222" stroke-width="0.7" fill="none"/>
<path d="M204.10,242.00 C203.37,242.25 201.12,242.83 199.70,243.50 C198.28,244.17 196.13,245.00 195.60,246.00 C195.07,247.00 195.15,248.80 196.50,249.50 C197.85,250.20 202.50,250.08 203.70,250.20" stroke="#222222" stroke-width="0.7" fill="none"/>
<path d="M201.61,251.15 L203.70,250.20 L201.83,248.86" stroke="#222222" stroke-width="0.7" fill="none"/>
<path d="M212.70,251.40 C212.45,250.28 211.40,246.87 211.20,244.70 C211.00,242.53 211.05,239.65 211.50,238.40 C211.95,237.15 213.03,237.27 213.90,237.20 C214.77,237.13 215.78,237.80 216.70,238.00 C217.62,238.20 218.55,238.67 219.40,238.40 C220.25,238.13 221.07,237.10 221.80,236.40 C222.53,235.70 223.47,234.57 223.80,234.20" stroke="#222222" stroke-width="0.7" fill="none"/>
<path d="M223.31,236.45 L223.80,234.20 L221.61,234.90" stroke="#222222" stroke-width="0.7" fill="none"/>
<path d="M225.30,256.50 C225.17,257.33 225.22,260.25 224.50,261.50 C223.78,262.75 222.33,263.75 221.00,264.00 C219.67,264.25 217.62,263.98 216.50,263.00 C215.38,262.02 214.67,258.92 214.30,258.10" stroke="#222222" stroke-width="0.7" fill="none"/>
<path d="M216.16,259.45 L214.30,258.10 L214.07,260.39" stroke="#222222" stroke-width="0.7" fill="none"/>
<text x="219.00" y="224.30" font-weight="bold" stroke="#231f20">+E</text>
<text x="234.00" y="234.30" stroke="#231f20">Unstable</text>
<text x="234.00" y="242.00" stroke="#231f20">loading</text>
<text x="234.00" y="249.90" stroke="#231f20">response</text>
<g transform="translate(186.00,181.00) scale(1.0)" filter="url(#soft)"><path d="M8,0 L14,0 L13,5 L10,6 L8.5,5Z" fill="#5a5a5a"/><path d="M3,4.5 L7,4 L7.5,10 L4.5,11 Z" fill="#cfcfcf"/><path d="M7.5,5.5 L13.5,5 L16,9 L15,16 L11,19 L8,17 L7,11Z" fill="#adadad"/><path d="M9,8 L12,8 L13,13 L10,15Z" fill="#7c7c7c"/><path d="M4,11 L8,16 L5,24 L1,24Z" fill="#e2e2e2"/><path d="M9,18 L17,25.5" stroke="#5a5a5a" stroke-width="0.9"/><path d="M0,25.3 L17,25.7" stroke="#454545" stroke-width="1.1"/></g>
<g transform="translate(183.00,253.00) scale(1.0)" filter="url(#soft)"><path d="M0.5,1.5 L4,0 L7,3 L6,7 L2,7Z" fill="#5a5a5a"/><path d="M6,3 L11,2.5 L13.5,7 L13,14 L9,16 L6,14 L5,8Z" fill="#b5b5b5"/><path d="M7,6 L10,6 L10.5,11 L7.5,12Z" fill="#808080"/><path d="M1,8 L5,8 L5,15 L2,15Z" fill="#e2e2e2"/><path d="M2,15 L6,20 L9,25" stroke="#d0d0d0" stroke-width="1.2" fill="none"/><path d="M7,16 Q13,16 21,13" stroke="#454545" stroke-width="0.9" fill="none"/></g>
<g transform="translate(229.00,254.50) scale(1.0)" filter="url(#soft)"><path d="M1,3 L5,0 L9,5 L5,8Z" fill="#d5d5d5"/><path d="M3,5 L7,2.5 L11,8 L7,11Z" fill="#5a5a5a"/><path d="M8,7 L13,6 L17,10 L17,16 L13,18 L10,15Z" fill="#b5b5b5"/><path d="M10,9 L13,9 L14,14 L11,14Z" fill="#808080"/><path d="M16,14 L22,10" stroke="#c8c8c8" stroke-width="0.8"/><path d="M7,19.8 L24,20.3" stroke="#454545" stroke-width="1.2"/></g>
<circle cx="212.60" cy="189.30" r="5.1" fill="url(#bg)"/>
<text x="212.60" y="191.65" text-anchor="middle" fill="#111" font-size="6.9" stroke="#111" letter-spacing="-0.4" style="stroke-width:0.3px">PO</text>
<circle cx="174.40" cy="259.50" r="5.1" fill="url(#bg)"/>
<text x="174.40" y="261.85" text-anchor="middle" fill="#111" font-size="6.9" stroke="#111" letter-spacing="-0.4" style="stroke-width:0.3px">FC</text>
<circle cx="226.40" cy="272.40" r="5.1" fill="url(#bg)"/>
<text x="226.40" y="274.75" text-anchor="middle" fill="#111" font-size="6.9" stroke="#111" letter-spacing="-0.4" style="stroke-width:0.3px">HS</text>
<path d="M297.40,251.30 C309.47,250.63 357.73,247.97 369.80,247.30  C369.77,247.75 369.77,248.88 369.60,250.00 C369.43,251.12 369.65,252.08 368.80,254.00 C367.95,255.92 365.73,259.40 364.50,261.50 C363.27,263.60 361.73,265.22 361.40,266.60 C361.07,267.98 361.80,269.45 362.50,269.80 C363.20,270.15 364.52,269.67 365.60,268.70 C366.68,267.73 367.95,265.75 369.00,264.00 C370.05,262.25 370.90,260.87 371.90,258.20 C372.90,255.53 374.30,251.15 375.00,248.00 C375.70,244.85 375.83,243.13 376.10,239.30 C376.37,235.47 376.52,230.72 376.60,225.00 C376.68,219.28 376.73,210.67 376.60,205.00 C376.47,199.33 376.15,194.17 375.80,191.00 C375.45,187.83 374.97,187.05 374.50,186.00 C374.03,184.95 373.25,184.92 373.00,184.70  C372.47,184.77 372.08,183.52 369.80,185.10 C367.52,186.68 363.85,190.07 359.30,194.20 C354.75,198.33 348.80,203.78 342.50,209.90 C336.20,216.02 327.42,225.22 321.50,230.90 C315.58,236.58 311.02,240.60 307.00,244.00 C302.98,247.40 299.00,250.08 297.40,251.30" stroke="#f0939b" stroke-width="1.55" fill="none"/>
<path d="M378.20,191.00 C378.13,189.67 378.50,184.92 377.80,183.00 C377.10,181.08 375.47,179.92 374.00,179.50 C372.53,179.08 371.62,178.93 369.00,180.50 C366.38,182.07 360.08,187.50 358.30,188.90" stroke="#222222" stroke-width="0.7" fill="none"/>
<path d="M359.16,186.77 L358.30,188.90 L360.58,188.57" stroke="#222222" stroke-width="0.7" fill="none"/>
<path d="M305.80,239.60 C304.92,240.25 302.13,242.10 300.50,243.50 C298.87,244.90 296.85,246.58 296.00,248.00 C295.15,249.42 294.98,250.95 295.40,252.00 C295.82,253.05 296.60,253.88 298.50,254.30 C300.40,254.72 305.42,254.47 306.80,254.50" stroke="#222222" stroke-width="0.7" fill="none"/>
<path d="M304.78,255.60 L306.80,254.50 L304.84,253.30" stroke="#222222" stroke-width="0.7" fill="none"/>
<path d="M360.40,265.60 C360.43,266.42 360.00,269.27 360.60,270.50 C361.20,271.73 362.77,272.75 364.00,273.00 C365.23,273.25 367.03,272.72 368.00,272.00 C368.97,271.28 369.50,269.25 369.80,268.70" stroke="#222222" stroke-width="0.7" fill="none"/>
<path d="M369.86,271.00 L369.80,268.70 L367.84,269.90" stroke="#222222" stroke-width="0.7" fill="none"/>
<text x="348.40" y="223.90" font-weight="bold" stroke="#231f20">+E</text>
<text x="377.20" y="258.40" stroke="#231f20">Active</text>
<text x="377.20" y="265.80" stroke="#231f20">loading</text>
<text x="377.20" y="273.10" stroke="#231f20">response</text>
<g transform="translate(323.00,181.00) scale(1.0)" filter="url(#soft)"><path d="M8,0 L14,0 L13,5 L10,6 L8.5,5Z" fill="#5a5a5a"/><path d="M3,4.5 L7,4 L7.5,10 L4.5,11 Z" fill="#cfcfcf"/><path d="M7.5,5.5 L13.5,5 L16,9 L15,16 L11,19 L8,17 L7,11Z" fill="#adadad"/><path d="M9,8 L12,8 L13,13 L10,15Z" fill="#7c7c7c"/><path d="M4,11 L8,16 L5,24 L1,24Z" fill="#e2e2e2"/><path d="M9,18 L17,25.5" stroke="#5a5a5a" stroke-width="0.9"/><path d="M0,25.3 L17,25.7" stroke="#454545" stroke-width="1.1"/></g>
<g transform="translate(298.50,258.50) scale(1.0)" filter="url(#soft)"><path d="M0.5,1.5 L4,0 L7,3 L6,7 L2,7Z" fill="#5a5a5a"/><path d="M6,3 L11,2.5 L13.5,7 L13,14 L9,16 L6,14 L5,8Z" fill="#b5b5b5"/><path d="M7,6 L10,6 L10.5,11 L7.5,12Z" fill="#808080"/><path d="M1,8 L5,8 L5,15 L2,15Z" fill="#e2e2e2"/><path d="M2,15 L6,20 L9,25" stroke="#d0d0d0" stroke-width="1.2" fill="none"/><path d="M7,16 Q13,16 21,13" stroke="#454545" stroke-width="0.9" fill="none"/></g>
<g transform="translate(333.00,256.50) scale(1.0)" filter="url(#soft)"><path d="M1,3 L5,0 L9,5 L5,8Z" fill="#d5d5d5"/><path d="M3,5 L7,2.5 L11,8 L7,11Z" fill="#5a5a5a"/><path d="M8,7 L13,6 L17,10 L17,16 L13,18 L10,15Z" fill="#b5b5b5"/><path d="M10,9 L13,9 L14,14 L11,14Z" fill="#808080"/><path d="M16,14 L22,10" stroke="#c8c8c8" stroke-width="0.8"/><path d="M7,19.8 L24,20.3" stroke="#454545" stroke-width="1.2"/></g>
<circle cx="348.80" cy="190.00" r="5.1" fill="url(#bg)"/>
<text x="348.80" y="192.35" text-anchor="middle" fill="#111" font-size="6.9" stroke="#111" letter-spacing="-0.4" style="stroke-width:0.3px">PO</text>
<circle cx="289.60" cy="264.70" r="5.1" fill="url(#bg)"/>
<text x="289.60" y="267.05" text-anchor="middle" fill="#111" font-size="6.9" stroke="#111" letter-spacing="-0.4" style="stroke-width:0.3px">FC</text>
<circle cx="354.10" cy="257.20" r="5.1" fill="url(#bg)"/>
<text x="354.10" y="259.55" text-anchor="middle" fill="#111" font-size="6.9" stroke="#111" letter-spacing="-0.4" style="stroke-width:0.3px">HS</text>
<path d="M433.20,246.70 C444.13,246.70 487.87,246.70 498.80,246.70  C498.93,247.13 498.75,248.70 499.60,249.30 C500.45,249.90 502.78,249.93 503.90,250.30 C505.02,250.67 505.90,251.07 506.30,251.50 C506.70,251.93 506.83,251.23 506.30,252.90 C505.77,254.57 504.02,259.53 503.10,261.50 C502.18,263.47 501.25,264.43 500.80,264.70 C500.35,264.97 500.47,264.68 500.40,263.10 C500.33,261.52 500.22,257.37 500.40,255.20 C500.58,253.03 500.92,251.47 501.50,250.10 C502.08,248.73 502.83,248.65 503.90,247.00 C504.97,245.35 506.73,243.37 507.90,240.20 C509.07,237.03 510.30,233.53 510.90,228.00 C511.50,222.47 511.68,214.70 511.50,207.00 C511.32,199.30 510.47,186.97 509.80,181.80 C509.13,176.63 508.20,177.22 507.50,176.00 C506.80,174.78 505.92,174.75 505.60,174.50  C505.25,174.58 504.90,173.78 503.50,175.00 C502.10,176.22 500.70,177.52 497.20,181.80 C493.70,186.08 488.45,193.00 482.50,200.70 C476.55,208.40 466.92,220.95 461.50,228.00 C456.08,235.05 452.10,240.20 450.00,243.00 C447.90,245.80 450.57,244.27 448.90,244.80 C447.23,245.33 442.62,245.88 440.00,246.20 C437.38,246.52 434.33,246.62 433.20,246.70" stroke="#e6535f" stroke-width="1.6" fill="none"/>
<path d="M514.00,186.00 C513.83,184.33 513.87,178.62 513.00,176.00 C512.13,173.38 510.47,170.97 508.80,170.30 C507.13,169.63 505.45,170.08 503.00,172.00 C500.55,173.92 495.58,180.17 494.10,181.80" stroke="#222222" stroke-width="0.7" fill="none"/>
<path d="M494.59,179.55 L494.10,181.80 L496.29,181.10" stroke="#222222" stroke-width="0.7" fill="none"/>
<path d="M444.70,240.60 C443.42,240.92 439.10,241.45 437.00,242.50 C434.90,243.55 432.27,245.60 432.10,246.90 C431.93,248.20 433.72,249.67 436.00,250.30 C438.28,250.93 444.17,250.63 445.80,250.70" stroke="#222222" stroke-width="0.7" fill="none"/>
<path d="M443.76,251.77 L445.80,250.70 L443.86,249.47" stroke="#222222" stroke-width="0.7" fill="none"/>
<path d="M507.10,249.30 C507.75,247.75 509.75,243.02 511.00,240.00 C512.25,236.98 514.00,232.67 514.60,231.20" stroke="#222222" stroke-width="0.7" fill="none"/>
<path d="M514.91,233.48 L514.60,231.20 L512.78,232.61" stroke="#222222" stroke-width="0.7" fill="none"/>
<path d="M506.30,261.50 C506.08,262.33 505.88,265.33 505.00,266.50 C504.12,267.67 502.42,268.50 501.00,268.50 C499.58,268.50 497.33,268.05 496.50,266.50 C495.67,264.95 496.08,260.42 496.00,259.20" stroke="#222222" stroke-width="0.7" fill="none"/>
<path d="M497.28,261.11 L496.00,259.20 L494.99,261.27" stroke="#222222" stroke-width="0.7" fill="none"/>
<text x="485.70" y="224.10" font-weight="bold" stroke="#231f20">+E</text>
<g transform="translate(457.00,181.00) scale(1.0)" filter="url(#soft)"><path d="M8,0 L14,0 L13,5 L10,6 L8.5,5Z" fill="#5a5a5a"/><path d="M3,4.5 L7,4 L7.5,10 L4.5,11 Z" fill="#cfcfcf"/><path d="M7.5,5.5 L13.5,5 L16,9 L15,16 L11,19 L8,17 L7,11Z" fill="#adadad"/><path d="M9,8 L12,8 L13,13 L10,15Z" fill="#7c7c7c"/><path d="M4,11 L8,16 L5,24 L1,24Z" fill="#e2e2e2"/><path d="M9,18 L17,25.5" stroke="#5a5a5a" stroke-width="0.9"/><path d="M0,25.3 L17,25.7" stroke="#454545" stroke-width="1.1"/></g>
<g transform="translate(516.00,211.00) scale(1.0)" filter="url(#soft)"><path d="M9.5,0 L14.5,0 L14,5.5 L10,5.8Z" fill="#5a5a5a"/><path d="M0.5,4 L5,3 L6.5,9 L2,10.5Z" fill="#d2d2d2"/><path d="M9,5.5 L15,5 L18.5,8 L18,15 L15,18 L10,18 L8.5,11Z" fill="#b2b2b2"/><path d="M10.5,8 L14,8 L14.5,14 L11,15Z" fill="#7c7c7c"/><path d="M5,9 L9,10 L9,18 L7,18Z" fill="#e5e5e5"/><path d="M7,20.5 L23,21.5" stroke="#454545" stroke-width="1.1"/><path d="M10,18 L12,20.5" stroke="#777" stroke-width="0.8"/></g>
<g transform="translate(448.00,252.00) scale(1.0)" filter="url(#soft)"><path d="M0.5,1.5 L4,0 L7,3 L6,7 L2,7Z" fill="#5a5a5a"/><path d="M6,3 L11,2.5 L13.5,7 L13,14 L9,16 L6,14 L5,8Z" fill="#b5b5b5"/><path d="M7,6 L10,6 L10.5,11 L7.5,12Z" fill="#808080"/><path d="M1,8 L5,8 L5,15 L2,15Z" fill="#e2e2e2"/><path d="M2,15 L6,20 L9,25" stroke="#d0d0d0" stroke-width="1.2" fill="none"/><path d="M7,16 Q13,16 21,13" stroke="#454545" stroke-width="0.9" fill="none"/></g>
<g transform="translate(509.00,254.00) scale(1.0)" filter="url(#soft)"><path d="M1,3 L5,0 L9,5 L5,8Z" fill="#d5d5d5"/><path d="M3,5 L7,2.5 L11,8 L7,11Z" fill="#5a5a5a"/><path d="M8,7 L13,6 L17,10 L17,16 L13,18 L10,15Z" fill="#b5b5b5"/><path d="M10,9 L13,9 L14,14 L11,14Z" fill="#808080"/><path d="M16,14 L22,10" stroke="#c8c8c8" stroke-width="0.8"/><path d="M7,19.8 L24,20.3" stroke="#454545" stroke-width="1.2"/></g>
<circle cx="483.60" cy="189.80" r="5.1" fill="url(#bg)"/>
<text x="483.60" y="192.15" text-anchor="middle" fill="#111" font-size="6.9" stroke="#111" letter-spacing="-0.4" style="stroke-width:0.3px">PO</text>
<circle cx="520.80" cy="240.20" r="5.1" fill="url(#bg)"/>
<text x="520.80" y="242.55" text-anchor="middle" fill="#111" font-size="6.9" stroke="#111" letter-spacing="-0.4" style="stroke-width:0.3px">LR</text>
<circle cx="438.80" cy="259.50" r="5.1" fill="url(#bg)"/>
<text x="438.80" y="261.85" text-anchor="middle" fill="#111" font-size="6.9" stroke="#111" letter-spacing="-0.4" style="stroke-width:0.3px">FC</text>
<circle cx="508.80" cy="273.80" r="5.1" fill="url(#bg)"/>
<text x="508.80" y="276.15" text-anchor="middle" fill="#111" font-size="6.9" stroke="#111" letter-spacing="-0.4" style="stroke-width:0.3px">HS</text>
<path d="M590.30,187.00 C600.98,187.00 643.72,187.00 654.40,187.00  C654.43,187.33 654.57,188.67 654.60,189.00  C654.92,188.83 655.60,189.33 656.50,188.00 C657.40,186.67 658.95,183.27 660.00,181.00 C661.05,178.73 662.03,177.90 662.80,174.40 C663.57,170.90 664.25,164.57 664.60,160.00 C664.95,155.43 664.93,152.67 664.90,147.00 C664.87,141.33 664.93,131.07 664.40,126.00 C663.87,120.93 662.67,118.35 661.70,116.60 C660.73,114.85 659.72,115.27 658.60,115.50 C657.48,115.73 656.05,116.95 655.00,118.00 C653.95,119.05 655.22,118.02 652.30,121.80 C649.38,125.58 643.12,133.70 637.50,140.70 C631.88,147.70 624.20,156.62 618.60,163.80 C613.00,170.98 607.05,179.93 603.90,183.80 C600.75,187.67 600.40,186.47 599.70,187.00" stroke="#e8404f" stroke-width="1.6" fill="none"/>
<path d="M654.60,189.00 C654.42,189.67 653.72,191.58 653.50,193.00 C653.28,194.42 652.98,195.88 653.30,197.50 C653.62,199.12 654.35,202.53 655.40,202.70 C656.45,202.87 658.72,200.25 659.60,198.50 C660.48,196.75 661.05,193.78 660.70,192.20 C660.35,190.62 658.45,189.62 657.50,189.00 C656.55,188.38 655.42,188.58 655.00,188.50" stroke="#e8404f" stroke-width="1.4" fill="none"/>
<path d="M617.50,186.90 C618.92,184.08 622.92,176.15 626.00,170.00 C629.08,163.85 632.83,156.00 636.00,150.00 C639.17,144.00 642.62,138.13 645.00,134.00 C647.38,129.87 649.42,126.67 650.30,125.20" stroke="#e8404f" stroke-width="1.5" fill="none" stroke-dasharray="3.6,2.2"/>
<path d="M651.60,126.50 C651.50,127.92 651.23,131.58 651.00,135.00 C650.77,138.42 650.70,141.50 650.20,147.00 C649.70,152.50 649.07,161.00 648.00,168.00 C646.93,175.00 645.02,183.03 643.80,189.00 C642.58,194.97 641.37,199.97 640.70,203.80 C640.03,207.63 639.78,210.00 639.80,212.00 C639.82,214.00 640.13,215.42 640.80,215.80 C641.47,216.18 642.77,216.10 643.80,214.30 C644.83,212.50 646.12,208.22 647.00,205.00 C647.88,201.78 648.27,197.80 649.10,195.00 C649.93,192.20 651.52,189.33 652.00,188.20" stroke="#e8404f" stroke-width="1.5" fill="none" stroke-dasharray="3.6,2.2"/>
<line x1="652.30" y1="132.30" x2="659.00" y2="132.30" stroke="#9c2236" stroke-width="1.1"/>
<path d="M657.00,130.20 L659.60,132.30 L657.00,134.40" stroke="#9c2236" stroke-width="1.1" fill="none"/>
<line x1="652.30" y1="157.10" x2="659.00" y2="157.10" stroke="#9c2236" stroke-width="1.1"/>
<path d="M657.00,155.00 L659.60,157.10 L657.00,159.20" stroke="#9c2236" stroke-width="1.1" fill="none"/>
<line x1="652.30" y1="180.70" x2="659.00" y2="180.70" stroke="#9c2236" stroke-width="1.1"/>
<path d="M657.00,178.60 L659.60,180.70 L657.00,182.80" stroke="#9c2236" stroke-width="1.1" fill="none"/>
<line x1="644.90" y1="199.60" x2="651.70" y2="199.60" stroke="#9c2236" stroke-width="1.1"/>
<path d="M649.70,197.50 L652.30,199.60 L649.70,201.70" stroke="#9c2236" stroke-width="1.1" fill="none"/>
<line x1="630.20" y1="160.70" x2="623.40" y2="160.70" stroke="#9c2236" stroke-width="1.1"/>
<path d="M625.40,158.60 L622.80,160.70 L625.40,162.80" stroke="#9c2236" stroke-width="1.1" fill="none"/>
<line x1="621.80" y1="176.00" x2="615.00" y2="176.00" stroke="#9c2236" stroke-width="1.1"/>
<path d="M617.00,173.90 L614.40,176.00 L617.00,178.10" stroke="#9c2236" stroke-width="1.1" fill="none"/>
<path d="M668.00,125.00 C667.92,123.50 668.08,118.50 667.50,116.00 C666.92,113.50 665.92,111.08 664.50,110.00 C663.08,108.92 661.25,108.67 659.00,109.50 C656.75,110.33 653.35,112.77 651.00,115.00 C648.65,117.23 645.92,121.58 644.90,122.90" stroke="#222222" stroke-width="0.7" fill="none"/>
<path d="M645.21,120.62 L644.90,122.90 L647.03,122.03" stroke="#222222" stroke-width="0.7" fill="none"/>
<path d="M595.50,183.80 C594.58,183.97 591.40,184.27 590.00,184.80 C588.60,185.33 587.10,186.05 587.10,187.00 C587.10,187.95 587.90,189.80 590.00,190.50 C592.10,191.20 598.08,191.08 599.70,191.20" stroke="#222222" stroke-width="0.7" fill="none"/>
<path d="M597.63,192.20 L599.70,191.20 L597.80,189.91" stroke="#222222" stroke-width="0.7" fill="none"/>
<path d="M661.70,188.00 C662.33,186.58 664.27,182.30 665.50,179.50 C666.73,176.70 668.50,172.58 669.10,171.20" stroke="#222222" stroke-width="0.7" fill="none"/>
<path d="M669.36,173.48 L669.10,171.20 L667.25,172.57" stroke="#222222" stroke-width="0.7" fill="none"/>
<path d="M658.60,210.00 C658.08,210.92 656.93,214.37 655.50,215.50 C654.07,216.63 651.58,217.00 650.00,216.80 C648.42,216.60 646.85,216.02 646.00,214.30 C645.15,212.58 645.08,207.80 644.90,206.50" stroke="#222222" stroke-width="0.7" fill="none"/>
<path d="M646.32,208.31 L644.90,206.50 L644.04,208.63" stroke="#222222" stroke-width="0.7" fill="none"/>
<text x="663.80" y="151.40" stroke="#231f20">Incline</text>
<text x="640.70" y="171.40" stroke="#231f20">Decline</text>
<circle cx="631.20" cy="131.30" r="5.1" fill="url(#bg)"/>
<text x="631.20" y="133.65" text-anchor="middle" fill="#111" font-size="6.9" stroke="#111" letter-spacing="-0.4" style="stroke-width:0.3px">PO</text>
<circle cx="594.50" cy="200.60" r="5.1" fill="url(#bg)"/>
<text x="594.50" y="202.95" text-anchor="middle" fill="#111" font-size="6.9" stroke="#111" letter-spacing="-0.4" style="stroke-width:0.3px">FC</text>
<circle cx="673.30" cy="180.70" r="5.1" fill="url(#bg)"/>
<text x="673.30" y="183.05" text-anchor="middle" fill="#111" font-size="6.9" stroke="#111" letter-spacing="-0.4" style="stroke-width:0.3px">LR</text>
<circle cx="665.90" cy="205.50" r="5.1" fill="url(#bg)"/>
<text x="665.90" y="207.85" text-anchor="middle" fill="#111" font-size="6.9" stroke="#111" letter-spacing="-0.4" style="stroke-width:0.3px">HS</text>
<line x1="50.30" y1="335.00" x2="50.30" y2="434.40" stroke="#7c7c7c" stroke-width="0.85"/>
<line x1="48.50" y1="335.30" x2="50.30" y2="335.30" stroke="#555" stroke-width="0.85"/>
<text x="46.60" y="337.60" text-anchor="end" stroke="#231f20">2</text>
<line x1="48.50" y1="384.70" x2="50.30" y2="384.70" stroke="#555" stroke-width="0.85"/>
<text x="46.60" y="387.00" text-anchor="end" stroke="#231f20">1</text>
<line x1="48.50" y1="434.00" x2="50.30" y2="434.00" stroke="#555" stroke-width="0.85"/>
<text x="46.60" y="436.30" text-anchor="end" stroke="#231f20">0</text>
<line x1="224.70" y1="335.00" x2="224.70" y2="434.40" stroke="#7c7c7c" stroke-width="0.85"/>
<line x1="222.90" y1="335.30" x2="224.70" y2="335.30" stroke="#555" stroke-width="0.85"/>
<text x="221.00" y="337.60" text-anchor="end" stroke="#231f20">0.2</text>
<line x1="222.90" y1="360.00" x2="224.70" y2="360.00" stroke="#555" stroke-width="0.85"/>
<text x="221.00" y="362.30" text-anchor="end" stroke="#231f20">0.1</text>
<line x1="222.90" y1="384.70" x2="224.70" y2="384.70" stroke="#555" stroke-width="0.85"/>
<text x="221.00" y="387.00" text-anchor="end" stroke="#231f20">0</text>
<line x1="222.90" y1="409.30" x2="224.70" y2="409.30" stroke="#555" stroke-width="0.85"/>
<text x="221.00" y="411.60" text-anchor="end" stroke="#231f20">-0.1</text>
<line x1="222.90" y1="434.00" x2="224.70" y2="434.00" stroke="#555" stroke-width="0.85"/>
<text x="221.00" y="436.30" text-anchor="end" stroke="#231f20">-0.2</text>
<line x1="398.10" y1="335.00" x2="398.10" y2="434.40" stroke="#7c7c7c" stroke-width="0.85"/>
<line x1="396.30" y1="335.30" x2="398.10" y2="335.30" stroke="#555" stroke-width="0.85"/>
<text x="394.40" y="337.60" text-anchor="end" stroke="#231f20">1.5</text>
<line x1="396.30" y1="434.00" x2="398.10" y2="434.00" stroke="#555" stroke-width="0.85"/>
<text x="394.40" y="436.30" text-anchor="end" stroke="#231f20">0.5</text>
<line x1="572.80" y1="335.00" x2="572.80" y2="434.40" stroke="#7c7c7c" stroke-width="0.85"/>
<line x1="571.00" y1="335.30" x2="572.80" y2="335.30" stroke="#555" stroke-width="0.85"/>
<text x="569.10" y="337.60" text-anchor="end" stroke="#231f20">100</text>
<line x1="571.00" y1="384.70" x2="572.80" y2="384.70" stroke="#555" stroke-width="0.85"/>
<text x="569.10" y="387.00" text-anchor="end" stroke="#231f20">60</text>
<line x1="571.00" y1="434.00" x2="572.80" y2="434.00" stroke="#555" stroke-width="0.85"/>
<text x="569.10" y="436.30" text-anchor="end" stroke="#231f20">20</text>
<line x1="50.30" y1="449.00" x2="50.30" y2="548.20" stroke="#7c7c7c" stroke-width="0.85"/>
<line x1="48.50" y1="465.10" x2="50.30" y2="465.10" stroke="#555" stroke-width="0.85"/>
<text x="46.60" y="467.40" text-anchor="end" stroke="#231f20">2</text>
<line x1="48.50" y1="506.40" x2="50.30" y2="506.40" stroke="#555" stroke-width="0.85"/>
<text x="46.60" y="508.70" text-anchor="end" stroke="#231f20">1</text>
<line x1="48.50" y1="547.70" x2="50.30" y2="547.70" stroke="#555" stroke-width="0.85"/>
<text x="46.60" y="550.00" text-anchor="end" stroke="#231f20">0</text>
<line x1="224.70" y1="449.00" x2="224.70" y2="548.20" stroke="#7c7c7c" stroke-width="0.85"/>
<line x1="222.90" y1="448.90" x2="224.70" y2="448.90" stroke="#555" stroke-width="0.85"/>
<text x="221.00" y="451.20" text-anchor="end" stroke="#231f20">0.4</text>
<line x1="222.90" y1="481.60" x2="224.70" y2="481.60" stroke="#555" stroke-width="0.85"/>
<text x="221.00" y="483.90" text-anchor="end" stroke="#231f20">0.2</text>
<line x1="222.90" y1="514.40" x2="224.70" y2="514.40" stroke="#555" stroke-width="0.85"/>
<text x="221.00" y="516.70" text-anchor="end" stroke="#231f20">0</text>
<line x1="222.90" y1="547.40" x2="224.70" y2="547.40" stroke="#555" stroke-width="0.85"/>
<text x="221.00" y="549.70" text-anchor="end" stroke="#231f20">-0.2</text>
<line x1="398.10" y1="449.00" x2="398.10" y2="548.20" stroke="#7c7c7c" stroke-width="0.85"/>
<line x1="396.30" y1="448.60" x2="398.10" y2="448.60" stroke="#555" stroke-width="0.85"/>
<text x="394.40" y="450.90" text-anchor="end" stroke="#231f20">1.5</text>
<line x1="396.30" y1="547.60" x2="398.10" y2="547.60" stroke="#555" stroke-width="0.85"/>
<text x="394.40" y="549.90" text-anchor="end" stroke="#231f20">0.5</text>
<line x1="572.80" y1="449.00" x2="572.80" y2="548.20" stroke="#7c7c7c" stroke-width="0.85"/>
<line x1="571.00" y1="448.90" x2="572.80" y2="448.90" stroke="#555" stroke-width="0.85"/>
<text x="569.10" y="451.20" text-anchor="end" stroke="#231f20">100</text>
<line x1="571.00" y1="498.00" x2="572.80" y2="498.00" stroke="#555" stroke-width="0.85"/>
<text x="569.10" y="500.30" text-anchor="end" stroke="#231f20">65</text>
<line x1="571.00" y1="547.40" x2="572.80" y2="547.40" stroke="#555" stroke-width="0.85"/>
<text x="569.10" y="549.70" text-anchor="end" stroke="#231f20">30</text>
<line x1="52.70" y1="549.60" x2="161.70" y2="549.60" stroke="#7c7c7c" stroke-width="0.85"/>
<line x1="52.70" y1="549.60" x2="52.70" y2="551.40" stroke="#555" stroke-width="0.85"/>
<text x="52.70" y="558.90" text-anchor="middle" stroke="#231f20">-4</text>
<line x1="72.54" y1="549.60" x2="72.54" y2="551.40" stroke="#555" stroke-width="0.85"/>
<text x="72.54" y="558.90" text-anchor="middle" stroke="#231f20">0</text>
<line x1="92.38" y1="549.60" x2="92.38" y2="551.40" stroke="#555" stroke-width="0.85"/>
<text x="92.38" y="558.90" text-anchor="middle" stroke="#231f20">4</text>
<line x1="112.22" y1="549.60" x2="112.22" y2="551.40" stroke="#555" stroke-width="0.85"/>
<text x="112.22" y="558.90" text-anchor="middle" stroke="#231f20">8</text>
<line x1="132.06" y1="549.60" x2="132.06" y2="551.40" stroke="#555" stroke-width="0.85"/>
<text x="132.06" y="558.90" text-anchor="middle" stroke="#231f20">12</text>
<line x1="151.90" y1="549.60" x2="151.90" y2="551.40" stroke="#555" stroke-width="0.85"/>
<text x="151.90" y="558.90" text-anchor="middle" stroke="#231f20">16</text>
<line x1="227.00" y1="549.60" x2="336.00" y2="549.60" stroke="#7c7c7c" stroke-width="0.85"/>
<line x1="227.00" y1="549.60" x2="227.00" y2="551.40" stroke="#555" stroke-width="0.85"/>
<text x="227.00" y="558.90" text-anchor="middle" stroke="#231f20">-4</text>
<line x1="246.84" y1="549.60" x2="246.84" y2="551.40" stroke="#555" stroke-width="0.85"/>
<text x="246.84" y="558.90" text-anchor="middle" stroke="#231f20">0</text>
<line x1="266.68" y1="549.60" x2="266.68" y2="551.40" stroke="#555" stroke-width="0.85"/>
<text x="266.68" y="558.90" text-anchor="middle" stroke="#231f20">4</text>
<line x1="286.52" y1="549.60" x2="286.52" y2="551.40" stroke="#555" stroke-width="0.85"/>
<text x="286.52" y="558.90" text-anchor="middle" stroke="#231f20">8</text>
<line x1="306.36" y1="549.60" x2="306.36" y2="551.40" stroke="#555" stroke-width="0.85"/>
<text x="306.36" y="558.90" text-anchor="middle" stroke="#231f20">12</text>
<line x1="326.20" y1="549.60" x2="326.20" y2="551.40" stroke="#555" stroke-width="0.85"/>
<text x="326.20" y="558.90" text-anchor="middle" stroke="#231f20">16</text>
<line x1="400.70" y1="549.60" x2="509.70" y2="549.60" stroke="#7c7c7c" stroke-width="0.85"/>
<line x1="400.70" y1="549.60" x2="400.70" y2="551.40" stroke="#555" stroke-width="0.85"/>
<text x="400.70" y="558.90" text-anchor="middle" stroke="#231f20">-4</text>
<line x1="420.54" y1="549.60" x2="420.54" y2="551.40" stroke="#555" stroke-width="0.85"/>
<text x="420.54" y="558.90" text-anchor="middle" stroke="#231f20">0</text>
<line x1="440.38" y1="549.60" x2="440.38" y2="551.40" stroke="#555" stroke-width="0.85"/>
<text x="440.38" y="558.90" text-anchor="middle" stroke="#231f20">4</text>
<line x1="460.22" y1="549.60" x2="460.22" y2="551.40" stroke="#555" stroke-width="0.85"/>
<text x="460.22" y="558.90" text-anchor="middle" stroke="#231f20">8</text>
<line x1="480.06" y1="549.60" x2="480.06" y2="551.40" stroke="#555" stroke-width="0.85"/>
<text x="480.06" y="558.90" text-anchor="middle" stroke="#231f20">12</text>
<line x1="499.90" y1="549.60" x2="499.90" y2="551.40" stroke="#555" stroke-width="0.85"/>
<text x="499.90" y="558.90" text-anchor="middle" stroke="#231f20">16</text>
<line x1="574.60" y1="549.60" x2="683.60" y2="549.60" stroke="#7c7c7c" stroke-width="0.85"/>
<line x1="574.60" y1="549.60" x2="574.60" y2="551.40" stroke="#555" stroke-width="0.85"/>
<text x="574.60" y="558.90" text-anchor="middle" stroke="#231f20">-4</text>
<line x1="594.44" y1="549.60" x2="594.44" y2="551.40" stroke="#555" stroke-width="0.85"/>
<text x="594.44" y="558.90" text-anchor="middle" stroke="#231f20">0</text>
<line x1="614.28" y1="549.60" x2="614.28" y2="551.40" stroke="#555" stroke-width="0.85"/>
<text x="614.28" y="558.90" text-anchor="middle" stroke="#231f20">4</text>
<line x1="634.12" y1="549.60" x2="634.12" y2="551.40" stroke="#555" stroke-width="0.85"/>
<text x="634.12" y="558.90" text-anchor="middle" stroke="#231f20">8</text>
<line x1="653.96" y1="549.60" x2="653.96" y2="551.40" stroke="#555" stroke-width="0.85"/>
<text x="653.96" y="558.90" text-anchor="middle" stroke="#231f20">12</text>
<line x1="673.80" y1="549.60" x2="673.80" y2="551.40" stroke="#555" stroke-width="0.85"/>
<text x="673.80" y="558.90" text-anchor="middle" stroke="#231f20">16</text>
<text x="107.20" y="567.60" text-anchor="middle" stroke="#231f20">Agonist-antagonist muscle afferents (Imp s<tspan font-size="3.9" dy="-2.5">-1</tspan><tspan dy="2.5"></tspan>)</text>
<text x="15.70" y="385.60" text-anchor="middle" transform="rotate(-90 15.7 385.6)" stroke="#231f20">Slope decline</text>
<text x="25.60" y="385.60" text-anchor="middle" transform="rotate(-90 25.6 385.6)" stroke="#231f20">Peak power</text>
<text x="35.00" y="385.60" text-anchor="middle" transform="rotate(-90 35.0 385.6)" stroke="#231f20">(W kg<tspan font-size="3.9" dy="-2.5">-1</tspan><tspan dy="2.5"></tspan>)</text>
<text x="15.70" y="498.00" text-anchor="middle" transform="rotate(-90 15.7 498.0)" stroke="#231f20">Slope incline</text>
<text x="25.60" y="498.00" text-anchor="middle" transform="rotate(-90 25.6 498.0)" stroke="#231f20">Peak power</text>
<text x="35.00" y="498.00" text-anchor="middle" transform="rotate(-90 35.0 498.0)" stroke="#231f20">(W kg<tspan font-size="3.9" dy="-2.5">-1</tspan><tspan dy="2.5"></tspan>)</text>
<text x="200.20" y="386.00" text-anchor="middle" transform="rotate(-90 200.20000000000002 386.0)" stroke="#231f20">Net work</text>
<text x="208.60" y="386.00" text-anchor="middle" transform="rotate(-90 208.60000000000002 386.0)" stroke="#231f20">(J kg<tspan font-size="3.9" dy="-2.5">-1</tspan><tspan dy="2.5"></tspan>)</text>
<text x="200.20" y="497.50" text-anchor="middle" transform="rotate(-90 200.20000000000002 497.5)" stroke="#231f20">Net work</text>
<text x="208.60" y="497.50" text-anchor="middle" transform="rotate(-90 208.60000000000002 497.5)" stroke="#231f20">(J kg<tspan font-size="3.9" dy="-2.5">-1</tspan><tspan dy="2.5"></tspan>)</text>
<text x="373.80" y="384.40" text-anchor="middle" transform="rotate(-90 373.8 384.4)" stroke="#231f20">Gait speed</text>
<text x="381.70" y="384.40" text-anchor="middle" transform="rotate(-90 381.7 384.4)" stroke="#231f20">(m s<tspan font-size="3.9" dy="-2.5">-1</tspan><tspan dy="2.5"></tspan>)</text>
<text x="373.80" y="497.60" text-anchor="middle" transform="rotate(-90 373.8 497.6)" stroke="#231f20">Gait speed</text>
<text x="381.70" y="497.60" text-anchor="middle" transform="rotate(-90 381.7 497.6)" stroke="#231f20">(m s<tspan font-size="3.9" dy="-2.5">-1</tspan><tspan dy="2.5"></tspan>)</text>
<text x="547.30" y="383.00" text-anchor="middle" transform="rotate(-90 547.3 383.0)" stroke="#231f20">Lower-extremity</text>
<text x="555.90" y="383.00" text-anchor="middle" transform="rotate(-90 555.9 383.0)" stroke="#231f20">kinematic symmetry (%)</text>
<text x="547.30" y="496.50" text-anchor="middle" transform="rotate(-90 547.3 496.5)" stroke="#231f20">Lower-extremity</text>
<text x="555.90" y="496.50" text-anchor="middle" transform="rotate(-90 555.9 496.5)" stroke="#231f20">kinematic symmetry (%)</text>
<line x1="53.90" y1="419.80" x2="160.30" y2="361.30" stroke="#1f1f1f" stroke-width="1.15"/>
<circle cx="66.90" cy="393.20" r="2.2" fill="#3f3f47"/>
<circle cx="64.70" cy="423.00" r="2.2" fill="#3f3f47"/>
<circle cx="69.90" cy="421.00" r="2.2" fill="#3f3f47"/>
<circle cx="64.20" cy="427.40" r="2.2" fill="#3f3f47"/>
<circle cx="77.60" cy="402.40" r="2.2" fill="#d8c2c5"/>
<circle cx="82.80" cy="398.00" r="2.2" fill="#d8c2c5"/>
<circle cx="86.00" cy="427.90" r="2.2" fill="#d8c2c5"/>
<circle cx="107.90" cy="361.60" r="2.2" fill="#ef979e"/>
<circle cx="115.80" cy="356.70" r="2.2" fill="#ef979e"/>
<circle cx="119.80" cy="372.60" r="2.2" fill="#ef979e"/>
<circle cx="125.40" cy="373.80" r="2.2" fill="#e24f5c"/>
<circle cx="133.90" cy="378.60" r="2.2" fill="#e24f5c"/>
<circle cx="122.50" cy="392.90" r="2.2" fill="#e24f5c"/>
<circle cx="142.10" cy="405.40" r="2.2" fill="#e24f5c"/>
<text x="72.60" y="371.20" stroke="#231f20"><tspan font-style="italic">r</tspan> = 0.63*</text>
<text x="72.60" y="379.10" stroke="#231f20">[0.15, 0.87]</text>
<text x="72.60" y="387.00" stroke="#231f20">m = 0.054</text>
<text x="92.20" y="412.70" fill="#cc3d58" stroke="#cc3d58">Afferent</text>
<text x="92.20" y="420.60" fill="#cc3d58" stroke="#cc3d58">augmentation</text>
<line x1="92.20" y1="426.60" x2="128.70" y2="426.60" stroke="#cc3d58" stroke-width="0.8"/>
<path d="M130.80,426.60 L127.80,428.17 L127.80,425.02Z" fill="#cc3d58"/>
<line x1="227.30" y1="405.40" x2="335.00" y2="346.30" stroke="#1f1f1f" stroke-width="1.15"/>
<circle cx="241.00" cy="383.00" r="2.2" fill="#3f3f47"/>
<circle cx="238.60" cy="388.80" r="2.2" fill="#3f3f47"/>
<circle cx="243.60" cy="413.30" r="2.2" fill="#3f3f47"/>
<circle cx="237.80" cy="419.30" r="2.2" fill="#3f3f47"/>
<circle cx="256.70" cy="374.40" r="2.2" fill="#d8c2c5"/>
<circle cx="251.50" cy="389.60" r="2.2" fill="#d8c2c5"/>
<circle cx="260.10" cy="408.50" r="2.2" fill="#d8c2c5"/>
<circle cx="282.00" cy="344.20" r="2.2" fill="#ef979e"/>
<circle cx="293.80" cy="358.60" r="2.2" fill="#ef979e"/>
<circle cx="289.80" cy="364.70" r="2.2" fill="#ef979e"/>
<circle cx="296.40" cy="370.00" r="2.2" fill="#e24f5c"/>
<circle cx="299.50" cy="375.20" r="2.2" fill="#e24f5c"/>
<circle cx="308.00" cy="372.00" r="2.2" fill="#e24f5c"/>
<circle cx="315.80" cy="364.10" r="2.2" fill="#e24f5c"/>
<text x="302.40" y="386.00" stroke="#231f20"><tspan font-style="italic">r</tspan> = 0.70**</text>
<text x="302.40" y="393.90" stroke="#231f20">[0.28, 0.90]</text>
<text x="302.40" y="401.80" stroke="#231f20"><tspan font-style="italic">m</tspan> = 0.011</text>
<text x="266.70" y="412.70" fill="#cc3d58" stroke="#cc3d58">Afferent</text>
<text x="266.70" y="420.60" fill="#cc3d58" stroke="#cc3d58">augmentation</text>
<line x1="266.70" y1="426.60" x2="303.20" y2="426.60" stroke="#cc3d58" stroke-width="0.8"/>
<path d="M305.30,426.60 L302.30,428.17 L302.30,425.02Z" fill="#cc3d58"/>
<line x1="400.40" y1="416.20" x2="508.40" y2="352.80" stroke="#1f1f1f" stroke-width="1.15"/>
<circle cx="414.40" cy="400.90" r="2.2" fill="#3f3f47"/>
<circle cx="411.20" cy="403.00" r="2.2" fill="#3f3f47"/>
<circle cx="417.00" cy="411.20" r="2.2" fill="#3f3f47"/>
<circle cx="411.70" cy="413.80" r="2.2" fill="#3f3f47"/>
<circle cx="430.10" cy="382.30" r="2.2" fill="#d8c2c5"/>
<circle cx="433.60" cy="389.10" r="2.2" fill="#d8c2c5"/>
<circle cx="424.90" cy="416.70" r="2.2" fill="#d8c2c5"/>
<circle cx="455.60" cy="398.80" r="2.2" fill="#ef979e"/>
<circle cx="463.00" cy="387.30" r="2.2" fill="#ef979e"/>
<circle cx="467.20" cy="382.30" r="2.2" fill="#ef979e"/>
<circle cx="470.10" cy="384.10" r="2.2" fill="#e24f5c"/>
<circle cx="472.70" cy="343.60" r="2.2" fill="#e24f5c"/>
<circle cx="481.40" cy="390.20" r="2.2" fill="#e24f5c"/>
<circle cx="489.80" cy="345.50" r="2.2" fill="#e24f5c"/>
<text x="486.30" y="374.70" stroke="#231f20"><tspan font-style="italic">r</tspan> = 0.75**</text>
<text x="486.30" y="382.60" stroke="#231f20">[0.37, 0.92]</text>
<text x="486.30" y="390.50" stroke="#231f20"><tspan font-style="italic">m</tspan> = 0.029</text>
<text x="440.10" y="412.70" fill="#cc3d58" stroke="#cc3d58">Afferent</text>
<text x="440.10" y="420.60" fill="#cc3d58" stroke="#cc3d58">augmentation</text>
<line x1="440.10" y1="426.60" x2="476.60" y2="426.60" stroke="#cc3d58" stroke-width="0.8"/>
<path d="M478.70,426.60 L475.70,428.17 L475.70,425.02Z" fill="#cc3d58"/>
<line x1="574.60" y1="383.80" x2="682.30" y2="348.40" stroke="#1f1f1f" stroke-width="1.15"/>
<circle cx="585.90" cy="362.60" r="2.2" fill="#3f3f47"/>
<circle cx="591.20" cy="362.00" r="2.2" fill="#3f3f47"/>
<circle cx="588.60" cy="376.00" r="2.2" fill="#3f3f47"/>
<circle cx="586.50" cy="415.40" r="2.2" fill="#3f3f47"/>
<circle cx="599.10" cy="367.30" r="2.2" fill="#d8c2c5"/>
<circle cx="604.30" cy="373.90" r="2.2" fill="#d8c2c5"/>
<circle cx="607.50" cy="391.50" r="2.2" fill="#d8c2c5"/>
<circle cx="629.80" cy="361.00" r="2.2" fill="#ef979e"/>
<circle cx="637.20" cy="360.20" r="2.2" fill="#ef979e"/>
<circle cx="641.10" cy="362.00" r="2.2" fill="#ef979e"/>
<circle cx="644.30" cy="356.80" r="2.2" fill="#e24f5c"/>
<circle cx="646.90" cy="362.00" r="2.2" fill="#e24f5c"/>
<circle cx="655.30" cy="362.60" r="2.2" fill="#e24f5c"/>
<circle cx="663.70" cy="354.70" r="2.2" fill="#e24f5c"/>
<text x="631.90" y="375.00" stroke="#231f20"><tspan font-style="italic">r</tspan> = 0.57*</text>
<text x="631.90" y="382.90" stroke="#231f20">[0.05, 0.84]</text>
<text x="631.90" y="390.80" stroke="#231f20"><tspan font-style="italic">m</tspan> = 1.3</text>
<text x="614.00" y="412.70" fill="#cc3d58" stroke="#cc3d58">Afferent</text>
<text x="614.00" y="420.60" fill="#cc3d58" stroke="#cc3d58">augmentation</text>
<line x1="614.00" y1="426.60" x2="650.50" y2="426.60" stroke="#cc3d58" stroke-width="0.8"/>
<path d="M652.60,426.60 L649.60,428.17 L649.60,425.02Z" fill="#cc3d58"/>
<line x1="53.90" y1="538.50" x2="152.40" y2="448.90" stroke="#1f1f1f" stroke-width="1.15"/>
<circle cx="67.00" cy="508.30" r="2.2" fill="#3f3f47"/>
<circle cx="64.40" cy="537.20" r="2.2" fill="#3f3f47"/>
<circle cx="69.60" cy="535.60" r="2.2" fill="#3f3f47"/>
<circle cx="63.80" cy="544.80" r="2.2" fill="#3f3f47"/>
<circle cx="82.80" cy="497.00" r="2.2" fill="#d8c2c5"/>
<circle cx="86.20" cy="491.00" r="2.2" fill="#d8c2c5"/>
<circle cx="77.50" cy="541.10" r="2.2" fill="#d8c2c5"/>
<circle cx="107.70" cy="479.90" r="2.2" fill="#ef979e"/>
<circle cx="115.60" cy="463.40" r="2.2" fill="#ef979e"/>
<circle cx="120.10" cy="476.80" r="2.2" fill="#ef979e"/>
<circle cx="122.70" cy="457.60" r="2.2" fill="#e24f5c"/>
<circle cx="125.60" cy="477.80" r="2.2" fill="#e24f5c"/>
<circle cx="134.00" cy="467.30" r="2.2" fill="#e24f5c"/>
<circle cx="142.40" cy="487.30" r="2.2" fill="#e24f5c"/>
<text x="109.80" y="496.70" stroke="#231f20"><tspan font-style="italic">r</tspan> = 0.84***</text>
<text x="109.80" y="504.60" stroke="#231f20">[0.56, 0.95]</text>
<text x="109.80" y="512.50" stroke="#231f20"><tspan font-style="italic">m</tspan> = 0.109</text>
<text x="92.20" y="525.80" fill="#cc3d58" stroke="#cc3d58">Afferent</text>
<text x="92.20" y="533.70" fill="#cc3d58" stroke="#cc3d58">augmentation</text>
<rect x="92.20" y="538.90" width="37" height="1.6" fill="url(#pg)"/>
<path d="M130.80,539.70 L127.60,541.38 L127.60,538.02Z" fill="#c02a45"/>
<line x1="227.30" y1="529.30" x2="335.00" y2="455.70" stroke="#1f1f1f" stroke-width="1.15"/>
<circle cx="241.00" cy="512.20" r="2.2" fill="#3f3f47"/>
<circle cx="238.90" cy="515.70" r="2.2" fill="#3f3f47"/>
<circle cx="238.00" cy="535.00" r="2.2" fill="#3f3f47"/>
<circle cx="243.60" cy="540.90" r="2.2" fill="#3f3f47"/>
<circle cx="256.70" cy="495.70" r="2.2" fill="#d8c2c5"/>
<circle cx="260.10" cy="497.80" r="2.2" fill="#d8c2c5"/>
<circle cx="251.50" cy="522.00" r="2.2" fill="#d8c2c5"/>
<circle cx="282.00" cy="477.80" r="2.2" fill="#ef979e"/>
<circle cx="289.80" cy="476.20" r="2.2" fill="#ef979e"/>
<circle cx="293.80" cy="472.80" r="2.2" fill="#ef979e"/>
<circle cx="296.40" cy="461.00" r="2.2" fill="#e24f5c"/>
<circle cx="308.00" cy="476.80" r="2.2" fill="#e24f5c"/>
<circle cx="299.50" cy="494.40" r="2.2" fill="#e24f5c"/>
<circle cx="315.80" cy="494.40" r="2.2" fill="#e24f5c"/>
<text x="302.20" y="508.70" stroke="#231f20"><tspan font-style="italic">r</tspan> = 0.79***</text>
<text x="302.20" y="516.60" stroke="#231f20">[0.45, 0.93]</text>
<text x="302.20" y="524.50" stroke="#231f20"><tspan font-style="italic">m</tspan> = 0.020</text>
<text x="266.70" y="525.80" fill="#cc3d58" stroke="#cc3d58">Afferent</text>
<text x="266.70" y="533.70" fill="#cc3d58" stroke="#cc3d58">augmentation</text>
<rect x="266.70" y="538.90" width="37" height="1.6" fill="url(#pg)"/>
<path d="M305.30,539.70 L302.10,541.38 L302.10,538.02Z" fill="#c02a45"/>
<line x1="400.40" y1="533.30" x2="508.40" y2="467.30" stroke="#1f1f1f" stroke-width="1.15"/>
<circle cx="414.40" cy="516.20" r="2.2" fill="#3f3f47"/>
<circle cx="411.20" cy="525.10" r="2.2" fill="#3f3f47"/>
<circle cx="412.00" cy="531.20" r="2.2" fill="#3f3f47"/>
<circle cx="417.00" cy="531.20" r="2.2" fill="#3f3f47"/>
<circle cx="430.10" cy="502.50" r="2.2" fill="#d8c2c5"/>
<circle cx="433.60" cy="512.50" r="2.2" fill="#d8c2c5"/>
<circle cx="424.90" cy="521.40" r="2.2" fill="#d8c2c5"/>
<circle cx="455.60" cy="503.60" r="2.2" fill="#ef979e"/>
<circle cx="463.00" cy="498.80" r="2.2" fill="#ef979e"/>
<circle cx="467.20" cy="495.70" r="2.2" fill="#ef979e"/>
<circle cx="470.10" cy="501.50" r="2.2" fill="#e24f5c"/>
<circle cx="472.70" cy="471.50" r="2.2" fill="#e24f5c"/>
<circle cx="481.40" cy="500.40" r="2.2" fill="#e24f5c"/>
<circle cx="489.80" cy="464.20" r="2.2" fill="#e24f5c"/>
<text x="486.70" y="488.50" stroke="#231f20"><tspan font-style="italic">r</tspan> = 0.87***</text>
<text x="486.70" y="496.40" stroke="#231f20">[0.63, 0.96]</text>
<text x="486.70" y="504.30" stroke="#231f20"><tspan font-style="italic">m</tspan> = 0.030</text>
<text x="440.10" y="525.80" fill="#cc3d58" stroke="#cc3d58">Afferent</text>
<text x="440.10" y="533.70" fill="#cc3d58" stroke="#cc3d58">augmentation</text>
<rect x="440.10" y="538.90" width="37" height="1.6" fill="url(#pg)"/>
<path d="M478.70,539.70 L475.50,541.38 L475.50,538.02Z" fill="#c02a45"/>
<line x1="574.60" y1="500.40" x2="682.30" y2="450.50" stroke="#1f1f1f" stroke-width="1.15"/>
<circle cx="585.90" cy="489.90" r="2.2" fill="#3f3f47"/>
<circle cx="588.60" cy="489.90" r="2.2" fill="#3f3f47"/>
<circle cx="591.20" cy="486.50" r="2.2" fill="#3f3f47"/>
<circle cx="586.50" cy="534.60" r="2.2" fill="#3f3f47"/>
<circle cx="599.10" cy="475.50" r="2.2" fill="#d8c2c5"/>
<circle cx="604.30" cy="475.20" r="2.2" fill="#d8c2c5"/>
<circle cx="607.50" cy="480.70" r="2.2" fill="#d8c2c5"/>
<circle cx="629.80" cy="472.00" r="2.2" fill="#ef979e"/>
<circle cx="637.20" cy="468.10" r="2.2" fill="#ef979e"/>
<circle cx="641.10" cy="468.60" r="2.2" fill="#ef979e"/>
<circle cx="644.30" cy="465.00" r="2.2" fill="#e24f5c"/>
<circle cx="646.90" cy="464.20" r="2.2" fill="#e24f5c"/>
<circle cx="655.30" cy="472.00" r="2.2" fill="#e24f5c"/>
<circle cx="663.70" cy="466.30" r="2.2" fill="#e24f5c"/>
<text x="614.00" y="488.50" stroke="#231f20"><tspan font-style="italic">r</tspan> = 0.71**</text>
<text x="614.00" y="496.40" stroke="#231f20">[0.29, 0.90]</text>
<text x="614.00" y="504.30" stroke="#231f20"><tspan font-style="italic">m</tspan> = 1.6</text>
<text x="614.00" y="525.80" fill="#cc3d58" stroke="#cc3d58">Afferent</text>
<text x="614.00" y="533.70" fill="#cc3d58" stroke="#cc3d58">augmentation</text>
<rect x="614.00" y="538.90" width="37" height="1.6" fill="url(#pg)"/>
<path d="M652.60,539.70 L649.40,541.38 L649.40,538.02Z" fill="#c02a45"/>
<circle cx="218.00" cy="565.30" r="2.3" fill="#3f3f47"/>
<text x="222.40" y="567.60" stroke="#231f20">CTL - non-biomimetic</text>
<circle cx="305.60" cy="565.30" r="2.3" fill="#d8c2c5"/>
<text x="310.00" y="567.60" stroke="#231f20">CTL - low level</text>
<circle cx="373.60" cy="565.30" r="2.3" fill="#ef979e"/>
<text x="378.00" y="567.60" stroke="#231f20">AMI - moderate level</text>
<circle cx="458.50" cy="565.30" r="2.3" fill="#e24f5c"/>
<text x="462.90" y="567.60" stroke="#231f20">AMI - high level</text>
</svg>
</body></html>
